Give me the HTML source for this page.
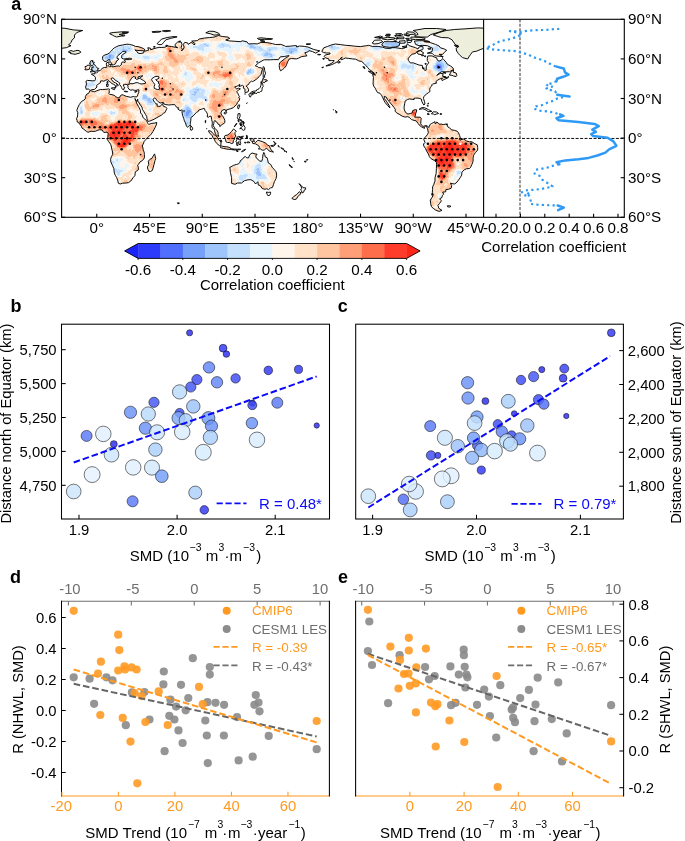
<!DOCTYPE html>
<html lang="en"><head><meta charset="utf-8"><title>Figure</title>
<style>html,body{margin:0;padding:0;background:#fff}svg{display:block}text{white-space:pre}</style></head>
<body>
<svg width="685" height="841" viewBox="0 0 685 841" font-family="'Liberation Sans', Arial, Helvetica, sans-serif">
<rect width="685" height="841" fill="#fff"/>
<defs>
<clipPath id="frame"><rect x="61.6" y="19.3" width="422.0" height="198.0"/></clipPath>
<clipPath id="land"><path d="M86.2,89.3L85.6,87.0L86.5,84.0L85.9,81.3L87.4,80.4L92.1,80.8L94.7,80.8L95.4,79.4L95.4,77.4L94.2,75.8L91.3,74.2L93.2,73.7L94.9,73.9L94.7,72.5L96.5,73.0L97.0,72.5L98.6,71.0L100.3,70.4L101.7,69.2L102.4,68.1L104.4,67.5L106.7,67.3L106.8,66.2L106.4,64.8L106.4,62.9L109.2,61.9L108.8,63.5L109.4,64.2L108.3,65.5L108.5,66.2L109.7,66.8L111.4,66.4L113.2,66.8L116.1,66.2L118.5,65.9L119.6,66.3L120.2,65.6L121.4,64.8L121.4,63.1L122.0,62.2L123.1,61.9L124.9,62.7L125.4,61.1L124.3,60.6L124.3,60.0L126.1,59.6L129.6,59.6L131.9,59.0L130.2,58.2L127.2,58.5L123.7,59.0L121.7,58.1L121.7,56.9L121.6,55.6L123.1,54.3L126.1,52.3L125.5,51.2L122.6,51.5L121.7,52.6L119.0,54.7L117.3,56.3L116.9,57.6L116.9,58.2L118.8,58.9L118.1,60.0L116.5,60.9L116.1,62.2L115.5,63.8L113.5,64.8L112.0,65.0L111.8,63.8L110.2,61.5L109.7,60.2L109.2,59.2L107.9,60.4L106.1,61.4L105.0,61.5L103.4,60.5L102.6,58.9L102.6,56.9L103.2,55.9L105.0,54.9L107.9,54.0L109.7,52.6L111.4,51.0L112.6,49.3L114.3,47.9L116.7,46.6L119.0,45.7L122.6,45.0L126.9,44.2L129.6,44.4L133.1,45.3L135.4,46.4L139.0,46.8L143.7,48.6L145.1,49.9L143.7,50.7L139.0,50.6L135.4,50.1L134.9,49.7L137.2,51.6L137.8,53.0L140.1,53.6L143.7,52.8L143.7,51.4L147.2,50.6L148.6,50.3L147.8,47.7L150.7,48.3L150.7,49.8L153.0,48.9L158.9,47.3L161.2,47.5L164.8,47.2L167.7,46.0L171.8,46.6L175.3,47.3L177.7,47.7L175.3,46.4L175.1,44.4L177.7,42.0L181.2,42.0L182.0,44.4L181.2,47.7L182.9,49.7L181.2,50.6L183.5,49.0L184.1,47.0L183.3,44.4L184.7,42.4L187.6,42.9L188.2,44.4L191.1,42.4L192.9,43.3L194.1,45.0L195.2,43.7L191.7,41.1L197.6,40.6L198.8,39.1L204.6,38.0L209.3,37.6L214.0,37.1L218.7,35.5L222.2,36.5L228.1,37.1L229.8,38.4L225.7,40.0L229.2,40.9L235.1,41.3L240.9,41.7L242.1,40.8L246.8,41.7L248.6,44.0L252.7,43.7L257.4,43.9L260.9,42.4L267.9,42.7L272.6,43.7L275.5,44.5L280.8,44.4L284.3,45.7L285.5,46.4L290.2,46.2L293.7,45.7L296.6,45.7L296.6,47.0L299.6,46.0L304.2,46.4L307.8,47.0L313.6,49.4L317.1,50.3L319.8,50.8L317.1,52.3L315.7,53.1L312.5,51.6L308.9,50.6L307.8,52.0L304.8,52.7L306.9,55.9L301.9,56.5L298.4,58.2L296.4,58.9L291.4,58.5L289.0,59.2L287.8,61.5L286.7,64.2L286.4,65.5L284.3,68.1L282.6,69.5L280.5,70.8L279.6,68.8L279.2,65.5L279.6,62.9L282.0,60.9L285.5,58.2L287.8,56.9L289.0,55.6L284.3,56.5L280.2,56.9L278.5,59.6L273.8,59.6L270.3,59.8L264.4,59.8L263.2,60.2L258.5,62.9L255.3,65.8L257.9,66.8L258.5,67.5L261.5,67.9L262.4,69.2L261.5,72.1L261.2,74.1L259.1,76.7L256.2,79.4L252.7,81.6L251.5,81.1L250.0,82.3L248.9,83.3L248.8,84.2L246.2,86.0L247.4,87.3L248.5,89.3L248.5,91.2L248.0,91.8L245.1,92.7L244.9,91.2L245.1,89.3L243.3,88.2L243.5,86.0L242.5,85.3L239.2,86.6L239.8,84.4L236.8,86.4L234.7,86.9L235.7,88.3L236.8,89.0L238.4,88.2L240.4,88.9L238.6,89.9L236.6,91.9L237.8,93.2L238.6,95.2L239.5,96.8L238.6,97.8L239.8,98.5L239.2,100.5L237.4,102.5L236.8,104.4L235.1,105.9L233.3,107.7L230.8,108.7L229.2,109.1L226.6,109.9L226.1,111.3L225.5,109.9L224.0,109.5L221.8,110.6L220.8,113.0L221.6,115.0L223.4,117.0L224.8,120.3L224.8,122.7L222.8,124.2L222.0,124.5L219.8,126.6L219.8,124.9L218.1,124.2L217.3,122.5L215.2,121.2L214.9,120.4L214.0,121.6L213.8,123.6L213.1,125.8L214.3,127.1L214.6,128.6L215.7,129.1L216.9,130.2L218.0,132.2L218.1,134.4L218.9,136.3L218.0,136.3L215.5,134.4L214.5,130.8L214.2,129.5L213.4,128.5L212.0,127.5L212.0,125.6L212.3,123.6L212.2,121.6L211.6,119.6L211.2,116.3L209.9,116.2L208.5,117.2L207.3,117.0L207.5,114.3L206.5,112.1L205.0,110.4L204.4,108.5L202.9,108.7L201.1,109.3L198.8,110.0L198.4,111.3L196.4,112.4L193.2,115.9L190.9,117.6L190.8,120.5L190.3,122.9L190.3,124.5L189.4,125.8L188.4,126.4L187.6,127.4L186.4,126.0L185.5,122.9L184.4,120.9L183.7,118.3L182.7,115.7L182.1,113.0L182.1,110.4L181.8,109.7L181.4,110.2L180.0,110.6L177.7,108.8L178.8,108.0L177.4,107.5L175.9,106.6L175.3,105.4L174.7,104.6L171.8,104.7L168.9,105.0L165.9,104.6L163.9,104.0L163.3,102.3L161.2,102.9L160.1,103.0L158.3,101.8L156.6,100.1L155.7,98.4L154.2,98.0L153.6,98.5L153.0,99.2L153.7,100.9L154.8,102.5L155.6,103.1L156.3,104.4L156.9,103.6L157.3,105.1L156.9,106.0L158.3,106.3L160.1,106.3L161.8,104.7L162.8,103.5L162.9,105.2L163.6,106.4L165.6,106.9L166.9,108.4L165.7,111.0L164.5,113.0L163.6,113.2L161.6,115.0L158.0,117.0L154.2,119.2L149.8,121.1L147.8,121.3L147.5,120.5L146.9,118.3L146.7,116.3L145.4,114.3L143.9,111.7L142.6,109.7L141.9,107.1L140.4,105.1L138.4,101.8L137.8,101.1L137.7,99.2L137.0,101.1L136.9,101.5L135.7,100.1L135.0,98.6L134.9,98.5L136.0,101.1L136.6,103.1L138.4,106.4L139.9,109.1L140.4,110.4L140.6,113.0L141.9,114.3L143.1,117.6L144.8,119.0L146.6,120.9L147.4,122.3L147.2,122.9L148.9,124.4L151.9,123.3L154.2,123.2L156.8,122.5L156.3,124.9L155.1,127.5L153.0,131.5L150.7,134.8L148.3,136.8L146.0,139.4L144.2,141.4L143.2,144.0L142.2,146.0L143.0,148.0L143.1,150.0L144.1,152.0L144.4,154.6L144.4,157.9L142.5,160.5L140.0,161.9L138.4,164.5L137.6,165.2L138.3,167.1L138.4,169.8L135.4,171.8L135.2,173.1L134.9,175.7L133.1,177.7L130.8,181.0L128.4,182.7L126.1,183.0L122.6,183.2L120.2,184.0L118.3,183.2L117.9,181.0L116.7,177.7L115.5,175.7L114.3,173.1L113.8,168.5L112.6,165.8L110.8,161.9L110.6,159.2L111.4,156.6L112.6,154.6L112.6,152.0L112.0,150.0L111.2,146.0L110.6,144.2L108.5,141.4L107.3,139.4L107.8,137.4L108.0,134.8L108.1,133.1L107.1,132.2L105.0,132.3L103.8,132.4L102.0,129.9L99.7,129.8L97.9,130.2L95.6,131.2L93.2,131.5L91.1,131.2L88.0,132.3L86.2,131.2L83.9,129.3L82.1,128.2L81.3,126.2L79.5,123.8L78.9,122.9L77.2,121.9L77.1,120.3L76.4,118.7L77.4,117.0L77.7,114.3L77.7,112.4L76.8,110.4L78.0,107.1L79.4,104.4L81.5,101.5L83.9,100.1L85.3,98.8L85.4,96.5L86.8,94.1L88.8,93.2L89.9,90.8L90.6,90.7L93.2,91.5L94.4,91.8L96.8,90.8L100.3,89.5L102.6,89.5L106.1,89.3L108.5,88.9L109.7,89.3L109.1,90.6L109.4,92.6L108.5,93.2L109.7,94.3L112.0,94.7L114.7,95.5L115.3,96.5L117.9,97.8L119.6,97.8L120.2,95.9L122.0,94.7L123.7,95.2L126.1,96.3L130.8,97.3L133.1,96.5L134.6,96.8L136.9,96.8L137.4,95.9L137.8,94.5L138.7,92.6L138.7,91.2L139.0,89.9L137.8,89.8L136.0,90.4L134.3,90.3L132.5,89.8L130.8,90.2L129.0,89.3L127.8,87.3L128.2,86.0L127.5,85.3L128.4,84.6L129.6,84.0L127.8,84.2L127.2,84.5L124.9,84.2L124.3,85.0L123.5,84.6L123.4,86.0L124.1,86.6L124.9,87.9L124.0,88.2L123.7,89.8L122.8,89.7L122.0,88.6L121.6,87.5L120.8,86.0L119.6,84.6L119.6,83.1L118.5,82.0L116.1,80.7L114.3,79.4L113.8,78.3L112.8,77.9L111.2,78.3L111.2,79.6L112.7,80.7L113.4,82.0L115.5,82.8L118.5,85.0L118.2,85.6L116.7,84.6L116.2,85.7L116.8,86.6L116.1,87.4L115.2,87.9L115.5,87.0L115.2,85.3L113.8,84.4L112.0,83.6L110.2,82.1L108.8,80.7L107.3,79.6L105.6,80.3L103.8,81.2L102.0,80.8L100.5,81.1L100.5,82.7L99.1,83.6L97.4,84.6L96.4,86.0L97.0,86.9L95.9,88.2L94.4,89.5L91.5,89.7L90.4,90.4L89.4,89.8L88.3,89.0ZM130.8,83.7L133.1,83.7L136.0,82.7L137.8,82.7L139.6,83.6L141.9,84.0L145.4,83.3L145.5,82.0L143.7,80.7L141.9,79.5L140.7,79.1L140.1,78.3L141.3,76.7L142.8,75.8L140.7,76.1L138.4,76.7L137.8,77.9L139.6,78.3L138.1,78.8L136.6,79.5L136.0,78.7L134.9,78.2L136.0,77.4L134.3,76.7L132.9,76.7L131.6,78.3L130.4,80.0L129.6,81.3L129.4,82.7L129.8,83.3ZM151.9,78.7L154.8,76.7L157.1,76.3L158.9,76.7L158.9,78.3L156.8,79.4L155.7,79.6L157.1,81.1L158.7,81.7L158.3,83.3L159.5,84.2L158.9,86.2L159.8,89.0L157.7,89.7L155.7,88.9L154.2,88.3L154.2,86.6L154.8,84.6L153.6,82.7L152.4,81.3L151.6,79.6ZM321.8,51.5L323.6,47.9L327.7,46.4L331.2,45.0L335.3,44.0L340.6,44.6L345.3,45.3L351.1,45.7L354.7,46.2L360.5,46.6L366.4,45.7L368.7,45.3L372.2,46.4L378.1,46.4L382.8,47.2L385.1,48.1L389.8,48.5L392.2,47.7L395.7,47.7L401.5,48.6L405.1,47.9L406.2,46.4L407.4,43.7L409.2,45.7L412.1,46.6L415.6,47.7L418.0,49.0L419.1,47.0L422.6,46.1L423.2,48.3L422.6,49.7L419.1,50.6L416.8,51.6L415.6,53.4L412.1,54.3L409.8,56.3L408.0,58.9L408.6,60.6L410.3,62.9L413.3,62.9L416.8,64.2L419.1,65.1L422.3,65.4L422.6,68.1L423.8,69.5L425.0,70.4L426.2,70.1L426.2,66.8L427.3,64.2L428.9,62.9L427.3,60.6L427.3,58.2L427.9,55.9L432.0,55.9L435.0,57.3L436.7,57.8L437.3,60.2L439.1,61.1L441.4,60.2L442.6,58.5L443.7,59.6L446.1,62.2L447.3,64.2L450.8,66.2L453.1,68.1L453.5,69.5L452.0,70.3L449.6,71.7L446.1,71.8L441.4,71.8L439.1,73.2L436.7,75.4L440.2,73.4L443.4,73.7L442.6,75.0L443.2,77.0L444.9,77.6L447.3,77.6L448.4,76.3L448.4,77.6L444.9,79.2L442.0,80.5L441.4,79.6L442.6,78.0L440.2,78.7L437.9,80.0L436.1,81.3L435.9,82.7L436.7,82.9L435.0,83.5L432.6,84.0L432.0,84.6L431.8,86.0L430.3,87.3L429.7,89.3L430.0,91.5L428.5,92.6L426.2,94.3L423.8,96.5L423.5,98.5L424.6,101.8L425.0,104.0L423.8,105.0L422.6,103.1L421.7,101.1L421.5,99.2L419.9,98.5L418.0,98.1L415.6,98.1L413.9,98.4L414.1,99.6L412.1,99.3L409.2,98.9L407.4,99.6L405.1,101.1L404.7,103.8L404.2,106.4L404.1,108.7L404.8,111.0L406.2,113.0L408.0,114.1L410.3,113.5L412.1,113.0L412.7,110.6L415.0,109.7L416.8,109.9L416.2,112.4L415.6,113.7L415.3,115.7L414.7,117.1L418.0,117.2L420.3,117.2L421.2,118.3L420.9,120.9L420.7,123.6L421.7,125.4L423.2,126.4L425.2,125.7L427.3,125.8L428.2,126.9L428.7,127.5L430.3,124.2L431.4,123.6L433.8,122.3L435.0,121.7L435.0,123.6L436.7,122.9L436.7,122.0L438.5,123.3L439.1,124.2L441.4,124.1L443.2,124.6L446.1,124.0L447.3,125.2L447.8,126.9L449.6,127.8L451.4,129.8L454.3,130.3L457.2,131.2L458.4,132.6L459.6,135.5L460.2,137.4L459.6,138.8L461.9,139.4L463.7,139.0L466.6,141.0L469.5,141.8L471.9,141.8L474.2,143.4L477.2,144.8L477.7,147.3L477.7,150.0L475.4,152.6L473.6,155.3L473.1,157.9L473.1,161.2L471.9,164.5L470.7,167.1L469.5,168.5L466.6,168.7L464.3,169.8L461.9,172.2L461.7,175.1L460.2,177.7L457.8,181.0L456.1,183.0L454.3,184.0L452.0,183.6L450.4,183.2L451.7,185.6L451.1,188.3L448.4,189.3L445.9,189.6L445.7,191.8L442.6,192.2L443.7,194.2L442.3,195.5L442.0,197.5L439.6,198.8L441.4,200.8L439.6,203.4L437.9,205.4L438.5,207.1L438.5,208.1L442.0,210.4L439.1,211.4L435.5,210.0L433.2,208.3L431.4,206.7L430.6,203.4L430.3,200.1L432.0,197.5L433.2,194.9L432.3,192.2L432.6,189.6L432.6,186.9L433.8,184.3L435.0,181.0L435.0,177.7L436.1,173.7L436.4,168.5L436.5,164.5L436.4,162.3L434.4,160.5L430.9,158.6L429.4,156.6L428.3,153.9L426.7,151.3L425.6,148.7L423.8,146.0L423.5,144.0L425.0,142.5L424.4,141.0L423.8,139.4L425.0,137.4L426.2,136.1L427.3,134.8L428.3,132.8L427.9,130.2L427.3,128.2L427.0,127.1L425.6,126.2L424.4,127.1L424.4,128.5L423.0,127.5L421.5,127.1L420.7,126.2L419.1,124.9L418.2,123.6L416.2,120.9L413.9,120.3L411.5,119.6L409.2,117.2L407.4,116.7L405.1,117.1L402.1,116.1L399.2,114.3L396.9,113.0L395.1,111.3L395.3,109.3L393.9,107.3L392.2,105.1L390.4,103.1L389.2,101.4L387.5,99.8L386.3,97.2L384.3,96.3L384.3,98.5L386.3,101.1L388.1,103.8L389.5,106.2L389.9,107.9L387.5,105.4L385.1,102.5L384.0,100.5L382.8,97.8L381.5,95.2L379.9,93.2L377.5,92.6L376.0,89.9L375.2,88.2L373.6,86.0L373.1,84.0L373.2,81.3L373.4,77.4L372.6,74.3L374.6,74.1L375.2,75.4L374.6,73.4L372.2,71.4L369.3,69.5L367.6,67.5L365.8,65.5L364.0,63.5L361.7,61.5L358.8,60.9L355.8,59.2L352.3,58.9L348.8,58.4L345.3,58.0L343.5,58.9L341.2,59.8L340.6,58.2L342.3,57.3L339.4,59.6L337.7,61.5L334.7,63.3L331.2,64.8L327.7,65.8L325.9,65.9L328.9,64.6L331.2,63.5L333.6,61.8L334.1,60.6L331.2,60.6L328.9,60.6L328.9,58.9L325.4,57.8L324.2,56.5L325.4,54.9L330.0,54.0L330.0,53.0L326.5,53.0L323.6,52.6ZM229.8,167.1L230.4,172.4L231.6,177.7L231.6,183.4L235.1,184.3L237.4,183.0L241.5,183.0L244.5,180.7L248.0,179.8L250.9,179.7L253.8,181.4L255.6,184.0L257.9,181.7L258.3,185.0L260.3,185.6L262.1,188.5L265.0,189.3L266.7,188.7L268.5,189.6L270.3,188.0L272.6,187.3L273.5,184.3L274.4,181.7L276.1,178.4L276.7,175.1L276.1,171.8L273.8,169.1L272.0,167.1L270.8,164.5L268.3,163.0L267.7,159.9L267.0,157.6L265.3,157.0L264.7,154.3L263.8,152.4L262.9,155.0L262.6,158.6L261.8,161.2L259.7,161.2L257.9,159.2L256.2,157.9L255.8,155.9L257.1,154.2L255.0,153.9L252.1,153.0L250.3,154.2L249.2,155.9L248.6,157.9L246.8,157.9L245.6,156.6L243.9,157.2L242.1,159.6L240.4,160.5L240.0,162.1L238.6,163.8L236.3,164.5L233.3,165.4L231.0,166.9ZM266.4,192.0L268.5,192.4L270.6,192.1L270.5,193.8L269.7,195.3L267.9,195.7L267.1,194.2ZM299.2,191.7L301.0,192.9L299.6,195.1L297.6,196.6L296.9,198.6L294.9,199.6L293.1,199.1L291.9,198.4L294.1,196.2L296.6,194.6L298.2,192.9ZM250.3,139.2L252.1,138.6L253.8,139.2L254.1,141.4L255.6,142.5L257.9,140.2L260.3,141.0L262.1,141.5L265.6,143.1L267.7,145.1L269.7,146.0L270.0,148.0L272.0,151.0L273.5,152.0L271.4,151.7L269.1,151.0L267.9,149.3L266.2,148.3L264.7,149.7L263.8,150.2L262.1,150.1L260.3,148.9L258.5,149.1L259.5,147.3L258.5,145.6L255.6,143.9L252.7,143.4L252.4,142.1L253.6,141.1L251.5,141.4L250.3,139.8ZM224.5,136.1L225.1,135.5L227.2,135.2L229.2,133.9L231.6,131.5L233.6,128.9L234.7,129.9L236.3,131.2L235.1,132.4L234.9,134.1L236.0,136.5L234.5,137.4L234.5,139.2L233.3,140.7L233.1,143.1L231.2,143.5L229.8,142.5L227.7,142.5L225.9,141.8L225.7,139.8L224.8,138.5ZM208.5,130.7L211.1,131.2L212.5,133.1L214.3,134.8L215.7,135.7L217.5,137.3L218.3,139.3L219.3,140.5L221.0,142.1L220.8,145.8L219.3,145.6L216.7,143.4L215.2,141.4L214.3,139.2L212.8,137.4L212.2,135.7L210.5,133.9L208.7,131.8ZM220.1,147.1L221.6,146.0L224.0,146.7L226.6,146.7L228.9,147.3L231.0,148.4L230.8,149.5L226.9,149.1L223.4,148.4L221.4,147.9ZM260.9,83.3L261.2,81.3L262.6,80.9L262.9,78.3L264.4,79.6L267.0,80.0L267.3,80.9L265.0,81.6L264.6,82.7L262.6,82.0L261.8,82.0L261.2,83.3ZM154.6,153.9L155.7,158.6L155.0,160.5L154.0,164.5L152.4,170.4L150.7,171.4L148.9,171.4L147.8,169.1L147.5,166.9L148.7,164.5L148.3,161.2L150.1,159.2L151.9,158.3L153.3,155.9ZM90.1,72.0L92.7,71.7L95.6,71.2L98.4,70.5L97.4,70.1L98.8,68.5L97.0,68.1L96.9,67.3L95.4,66.0L94.9,64.8L94.2,64.2L93.2,64.2L94.4,62.2L92.7,61.9L92.1,62.1L93.0,60.7L90.9,60.7L90.0,62.2L90.3,63.5L89.5,63.4L90.3,64.8L91.1,65.2L90.9,65.8L92.7,65.6L93.2,66.8L93.2,67.6L91.5,67.7L91.7,68.4L92.1,69.1L90.7,69.7L92.7,70.1L93.2,70.5L91.5,70.8ZM85.0,69.7L86.8,69.9L89.4,69.2L89.7,67.5L90.3,66.2L89.5,65.2L87.4,65.2L86.8,66.2L85.0,66.6L85.3,67.7L85.9,68.5L84.7,69.5ZM446.7,50.3L444.3,52.3L442.6,54.5L439.1,54.3L442.6,56.5L436.7,56.0L434.4,55.6L432.0,53.2L427.3,53.2L432.0,51.6L432.6,48.3L427.3,45.7L422.6,45.4L419.1,45.7L415.6,44.4L414.4,41.1L419.1,40.7L423.8,40.7L428.5,42.0L430.9,42.8L435.5,44.4L439.1,46.0L440.2,47.7L444.3,49.0ZM381.6,45.0L384.0,41.7L389.8,41.7L395.7,41.5L399.8,43.1L399.2,45.7L395.7,47.0L389.8,47.4L384.0,46.6ZM372.2,43.1L374.6,40.2L380.4,40.0L382.8,41.7L378.1,43.7L374.0,44.0ZM399.2,41.1L405.1,40.7L405.1,43.1L400.4,43.3ZM406.8,40.4L412.1,40.4L410.9,42.4L407.4,42.7ZM402.1,46.6L406.2,46.0L406.8,47.3L403.9,47.4ZM423.8,40.9L427.3,40.8L429.7,41.7L426.7,42.1L424.1,41.7ZM393.9,40.9L396.3,40.8L395.9,42.0L394.5,41.7ZM427.9,48.3L430.3,48.1L430.9,49.1L428.5,49.3ZM416.8,51.9L420.3,50.6L423.8,53.0L421.5,54.7L418.0,54.0ZM449.3,75.1L451.4,71.4L453.7,70.0L453.1,72.1L456.1,73.0L456.9,75.4L456.1,76.5L453.7,76.1L452.0,75.3ZM368.4,71.0L372.2,72.1L374.0,74.1L372.2,73.7L369.3,72.1Z" clip-rule="evenodd"/></clipPath>
<filter id="b1" x="-50%" y="-50%" width="200%" height="200%"><feGaussianBlur stdDeviation="0.9"/></filter>
<filter id="b2" x="-50%" y="-50%" width="200%" height="200%"><feGaussianBlur stdDeviation="1.7"/></filter>
<filter id="b3" x="-50%" y="-50%" width="200%" height="200%"><feGaussianBlur stdDeviation="0.9"/></filter>
<filter id="cmap" color-interpolation-filters="sRGB" filterUnits="userSpaceOnUse" x="61.6" y="19.3" width="422.0" height="198.0"><feGaussianBlur in="SourceGraphic" stdDeviation="0.5" result="bl"/><feTurbulence type="fractalNoise" baseFrequency="0.11" numOctaves="3" seed="7" result="nz"/><feColorMatrix in="nz" type="matrix" values="1 0 0 0 0 1 0 0 0 0 1 0 0 0 0 0 0 0 0 1" result="ng"/><feComposite in="bl" in2="ng" operator="arithmetic" k1="0" k2="1" k3="0.34" k4="-0.17" result="sm"/><feComponentTransfer in="sm"><feFuncR type="discrete" tableValues="0.110 0.173 0.310 0.467 0.620 0.773 0.902 1.000 1.000 1.000 1.000 1.000 1.000 1.000"/><feFuncG type="discrete" tableValues="0.141 0.235 0.435 0.627 0.773 0.878 0.957 0.961 0.886 0.773 0.624 0.431 0.239 0.149"/><feFuncB type="discrete" tableValues="0.980 0.980 0.988 0.984 0.988 0.992 0.996 0.918 0.784 0.627 0.471 0.294 0.165 0.094"/></feComponentTransfer></filter>
</defs>
<g clip-path="url(#frame)">
<g clip-path="url(#land)"><g filter="url(#cmap)">
<rect x="56.6" y="14.3" width="432.0" height="208.0" fill="#949494"/>
<g filter="url(#b2)"><ellipse cx="112.6" cy="72.8" rx="12.3" ry="4.9" fill="#9b9b9b"/><ellipse cx="100.3" cy="76.3" rx="4.9" ry="3.9" fill="#898989"/><ellipse cx="90.7" cy="84.2" rx="5.6" ry="3.9" fill="#767676"/><ellipse cx="88.0" cy="85.1" rx="2.6" ry="2.1" fill="#646464"/><ellipse cx="133.6" cy="69.3" rx="14.9" ry="5.3" fill="#adadad"/><ellipse cx="158.1" cy="67.6" rx="10.5" ry="5.3" fill="#adadad"/><ellipse cx="173.9" cy="60.6" rx="7.9" ry="7.9" fill="#adadad"/><ellipse cx="158.1" cy="56.2" rx="7.0" ry="3.2" fill="#898989"/><ellipse cx="142.3" cy="57.0" rx="9.6" ry="3.5" fill="#767676"/><ellipse cx="137.1" cy="54.9" rx="4.9" ry="3.2" fill="#767676"/><ellipse cx="117.8" cy="52.1" rx="14.9" ry="5.3" fill="#646464" transform="rotate(-25 117.8 52.1)"/><ellipse cx="127.4" cy="50.0" rx="6.1" ry="3.2" fill="#646464"/><ellipse cx="135.3" cy="85.1" rx="7.0" ry="2.1" fill="#898989"/><ellipse cx="144.1" cy="81.2" rx="3.2" ry="1.8" fill="#9b9b9b"/><ellipse cx="165.1" cy="85.1" rx="7.9" ry="6.7" fill="#adadad"/><ellipse cx="152.9" cy="92.1" rx="7.0" ry="5.3" fill="#9b9b9b"/><ellipse cx="142.3" cy="99.4" rx="5.6" ry="3.9" fill="#646464"/><ellipse cx="151.1" cy="102.6" rx="4.4" ry="3.2" fill="#646464"/><ellipse cx="112.6" cy="99.4" rx="15.8" ry="4.4" fill="#adadad"/><ellipse cx="86.3" cy="102.6" rx="7.0" ry="3.5" fill="#9b9b9b"/><ellipse cx="81.9" cy="102.6" rx="2.1" ry="3.9" fill="#646464"/><ellipse cx="116.1" cy="79.5" rx="3.2" ry="2.1" fill="#646464"/><ellipse cx="92.4" cy="66.7" rx="3.5" ry="5.3" fill="#646464"/></g>
<g filter="url(#b1)"><ellipse cx="110.8" cy="56.2" rx="3.9" ry="2.5" fill="#525252"/><ellipse cx="124.8" cy="50.9" rx="3.5" ry="1.8" fill="#525252"/><ellipse cx="104.7" cy="58.8" rx="1.8" ry="1.4" fill="#525252"/><ellipse cx="91.5" cy="63.2" rx="1.6" ry="1.6" fill="#525252"/><ellipse cx="133.6" cy="70.7" rx="8.4" ry="2.8" fill="#bfbfbf"/><ellipse cx="129.2" cy="71.9" rx="3.5" ry="1.9" fill="#e6e6e6"/><ellipse cx="138.8" cy="67.6" rx="3.2" ry="1.8" fill="#e6e6e6"/><ellipse cx="170.4" cy="49.7" rx="3.2" ry="2.5" fill="#e6e6e6"/><ellipse cx="172.1" cy="52.7" rx="4.2" ry="3.0" fill="#bfbfbf"/><ellipse cx="163.4" cy="84.2" rx="5.3" ry="4.4" fill="#bfbfbf"/><ellipse cx="161.6" cy="89.5" rx="2.5" ry="1.8" fill="#e6e6e6"/><ellipse cx="169.0" cy="93.5" rx="2.8" ry="1.9" fill="#e6e6e6"/><ellipse cx="165.1" cy="94.7" rx="1.8" ry="1.4" fill="#e6e6e6"/><ellipse cx="145.8" cy="89.5" rx="2.1" ry="1.6" fill="#e6e6e6"/><ellipse cx="162.5" cy="80.7" rx="1.8" ry="1.8" fill="#d1d1d1"/><ellipse cx="145.0" cy="96.5" rx="2.1" ry="1.8" fill="#404040"/><ellipse cx="147.6" cy="92.1" rx="1.8" ry="1.4" fill="#525252"/><ellipse cx="119.6" cy="100.0" rx="3.2" ry="1.9" fill="#bfbfbf"/><ellipse cx="118.7" cy="100.5" rx="1.8" ry="1.2" fill="#e6e6e6"/></g>
<g filter="url(#b2)"><ellipse cx="222.6" cy="46.5" rx="35.0" ry="5.3" fill="#767676"/><ellipse cx="268.1" cy="52.7" rx="14.0" ry="6.1" fill="#767676"/><ellipse cx="282.1" cy="52.7" rx="8.8" ry="4.4" fill="#767676"/><ellipse cx="177.0" cy="49.2" rx="6.1" ry="5.3" fill="#adadad"/><ellipse cx="205.0" cy="60.9" rx="19.3" ry="4.2" fill="#9b9b9b"/><ellipse cx="236.6" cy="64.9" rx="10.5" ry="2.6" fill="#9b9b9b"/><ellipse cx="187.5" cy="76.3" rx="10.5" ry="5.3" fill="#767676"/><ellipse cx="180.5" cy="71.1" rx="4.4" ry="2.1" fill="#9b9b9b"/><ellipse cx="192.8" cy="67.6" rx="7.0" ry="2.1" fill="#9b9b9b"/><ellipse cx="220.8" cy="74.6" rx="11.4" ry="4.6" fill="#bfbfbf"/><ellipse cx="198.0" cy="92.1" rx="10.5" ry="3.9" fill="#646464"/><ellipse cx="213.8" cy="85.1" rx="7.0" ry="3.5" fill="#767676"/><ellipse cx="187.5" cy="88.6" rx="5.3" ry="3.2" fill="#767676"/><ellipse cx="228.7" cy="93.8" rx="6.7" ry="7.9" fill="#adadad"/><ellipse cx="240.1" cy="79.8" rx="5.3" ry="3.2" fill="#9b9b9b"/><ellipse cx="250.6" cy="71.9" rx="4.9" ry="3.9" fill="#646464"/><ellipse cx="252.3" cy="58.8" rx="8.8" ry="2.3" fill="#9b9b9b"/><ellipse cx="284.8" cy="63.2" rx="4.4" ry="3.9" fill="#adadad"/><ellipse cx="180.5" cy="85.1" rx="4.4" ry="2.6" fill="#9b9b9b"/><ellipse cx="175.3" cy="93.8" rx="7.0" ry="3.9" fill="#adadad"/><ellipse cx="261.1" cy="64.1" rx="5.3" ry="2.6" fill="#767676"/></g>
<g filter="url(#b1)"><ellipse cx="205.0" cy="45.1" rx="7.0" ry="1.9" fill="#646464"/><ellipse cx="227.8" cy="46.5" rx="8.8" ry="1.9" fill="#646464"/><ellipse cx="254.1" cy="47.4" rx="8.8" ry="2.3" fill="#646464"/><ellipse cx="275.1" cy="49.2" rx="8.8" ry="2.8" fill="#646464"/><ellipse cx="268.1" cy="54.9" rx="7.9" ry="2.5" fill="#646464"/><ellipse cx="254.1" cy="47.4" rx="4.4" ry="1.2" fill="#525252"/><ellipse cx="203.3" cy="45.1" rx="2.1" ry="1.2" fill="#525252"/><ellipse cx="276.9" cy="48.6" rx="3.2" ry="1.2" fill="#525252"/><ellipse cx="196.3" cy="60.6" rx="6.1" ry="2.1" fill="#adadad"/><ellipse cx="215.6" cy="61.4" rx="5.3" ry="1.8" fill="#adadad"/><ellipse cx="222.6" cy="75.4" rx="5.3" ry="1.8" fill="#d1d1d1"/><ellipse cx="208.5" cy="72.8" rx="2.1" ry="1.6" fill="#d1d1d1"/><ellipse cx="229.6" cy="72.8" rx="1.8" ry="1.4" fill="#d1d1d1"/><ellipse cx="205.0" cy="97.3" rx="4.6" ry="2.5" fill="#525252"/><ellipse cx="194.5" cy="93.0" rx="3.2" ry="1.6" fill="#525252"/><ellipse cx="207.7" cy="101.2" rx="2.1" ry="1.6" fill="#404040"/><ellipse cx="220.8" cy="100.8" rx="3.5" ry="2.5" fill="#bfbfbf"/><ellipse cx="226.9" cy="90.3" rx="2.1" ry="1.8" fill="#bfbfbf"/><ellipse cx="170.9" cy="50.0" rx="2.1" ry="1.8" fill="#d1d1d1"/><ellipse cx="170.0" cy="94.2" rx="1.8" ry="1.4" fill="#d1d1d1"/><ellipse cx="180.9" cy="94.2" rx="2.1" ry="1.6" fill="#d1d1d1"/><ellipse cx="249.7" cy="72.8" rx="1.8" ry="1.4" fill="#525252"/><ellipse cx="284.8" cy="63.7" rx="3.9" ry="3.5" fill="#d1d1d1"/></g>
<g filter="url(#b2)"><ellipse cx="294.0" cy="50.0" rx="16.6" ry="3.5" fill="#646464"/><ellipse cx="346.6" cy="53.2" rx="13.1" ry="3.9" fill="#9b9b9b"/><ellipse cx="332.6" cy="52.7" rx="5.3" ry="4.4" fill="#898989"/><ellipse cx="336.1" cy="47.4" rx="9.6" ry="1.6" fill="#646464"/><ellipse cx="385.1" cy="47.6" rx="14.9" ry="2.1" fill="#646464"/><ellipse cx="367.6" cy="62.3" rx="4.6" ry="4.6" fill="#767676"/><ellipse cx="386.9" cy="67.6" rx="8.8" ry="10.5" fill="#adadad"/><ellipse cx="393.9" cy="88.6" rx="6.1" ry="8.8" fill="#adadad"/><ellipse cx="385.1" cy="89.5" rx="3.2" ry="4.4" fill="#898989"/><ellipse cx="395.6" cy="67.6" rx="3.5" ry="3.5" fill="#898989"/></g>
<g filter="url(#b1)"><ellipse cx="306.3" cy="49.2" rx="2.8" ry="1.6" fill="#525252"/><ellipse cx="290.5" cy="52.7" rx="2.8" ry="1.6" fill="#525252"/><ellipse cx="284.4" cy="63.7" rx="3.5" ry="3.2" fill="#d1d1d1"/><ellipse cx="392.1" cy="45.8" rx="5.3" ry="1.4" fill="#525252"/><ellipse cx="350.1" cy="52.7" rx="4.4" ry="1.4" fill="#adadad"/><ellipse cx="383.4" cy="74.6" rx="2.8" ry="2.5" fill="#bfbfbf"/><ellipse cx="393.9" cy="85.1" rx="2.1" ry="2.1" fill="#bfbfbf"/><ellipse cx="392.1" cy="95.6" rx="1.8" ry="2.1" fill="#bfbfbf"/></g>
<g filter="url(#b2)"><ellipse cx="394.0" cy="43.9" rx="20.1" ry="3.9" fill="#646464"/><ellipse cx="416.8" cy="43.4" rx="4.9" ry="3.5" fill="#646464"/><ellipse cx="432.6" cy="48.3" rx="11.4" ry="4.4" fill="#767676"/><ellipse cx="438.7" cy="65.8" rx="10.2" ry="7.0" fill="#646464"/><ellipse cx="430.8" cy="60.6" rx="4.4" ry="6.1" fill="#767676"/><ellipse cx="406.3" cy="67.6" rx="9.6" ry="7.4" fill="#767676"/><ellipse cx="387.0" cy="72.8" rx="8.8" ry="10.5" fill="#adadad"/><ellipse cx="415.0" cy="88.6" rx="10.5" ry="7.0" fill="#898989"/><ellipse cx="402.8" cy="85.1" rx="7.0" ry="7.0" fill="#9b9b9b"/><ellipse cx="425.6" cy="81.6" rx="7.0" ry="4.4" fill="#9b9b9b"/><ellipse cx="402.8" cy="101.2" rx="2.8" ry="2.1" fill="#646464"/><ellipse cx="423.8" cy="92.1" rx="4.4" ry="3.5" fill="#767676"/><ellipse cx="411.5" cy="74.6" rx="4.4" ry="3.2" fill="#767676"/></g>
<g filter="url(#b1)"><ellipse cx="392.3" cy="44.8" rx="9.6" ry="1.6" fill="#525252"/><ellipse cx="438.7" cy="67.2" rx="5.3" ry="3.2" fill="#525252"/><ellipse cx="438.7" cy="67.2" rx="2.5" ry="1.6" fill="#2e2e2e"/><ellipse cx="438.7" cy="67.2" rx="1.2" ry="0.9" fill="#040404"/><ellipse cx="402.8" cy="67.6" rx="2.5" ry="1.8" fill="#646464"/><ellipse cx="385.3" cy="74.6" rx="2.5" ry="2.8" fill="#bfbfbf"/><ellipse cx="392.3" cy="85.1" rx="1.8" ry="1.8" fill="#bfbfbf"/></g>
<g filter="url(#b2)"><ellipse cx="112.6" cy="109.9" rx="29.8" ry="9.6" fill="#9b9b9b"/><ellipse cx="117.8" cy="103.8" rx="12.3" ry="4.4" fill="#adadad"/><ellipse cx="91.5" cy="105.5" rx="7.0" ry="3.5" fill="#adadad"/><ellipse cx="110.8" cy="112.5" rx="7.0" ry="2.5" fill="#767676"/><ellipse cx="133.6" cy="111.6" rx="4.4" ry="2.8" fill="#767676"/><ellipse cx="81.0" cy="109.9" rx="3.2" ry="5.3" fill="#646464"/><ellipse cx="95.0" cy="113.4" rx="5.3" ry="2.1" fill="#767676"/><ellipse cx="137.1" cy="105.5" rx="4.4" ry="4.4" fill="#adadad"/><ellipse cx="89.8" cy="123.9" rx="14.0" ry="4.9" fill="#bfbfbf"/><ellipse cx="123.1" cy="132.7" rx="18.4" ry="11.4" fill="#d1d1d1"/><ellipse cx="142.3" cy="126.5" rx="5.6" ry="5.6" fill="#bfbfbf"/><ellipse cx="151.1" cy="127.4" rx="4.4" ry="3.5" fill="#adadad"/><ellipse cx="138.8" cy="146.7" rx="5.3" ry="6.3" fill="#bfbfbf"/><ellipse cx="126.6" cy="153.7" rx="10.2" ry="4.9" fill="#adadad"/><ellipse cx="112.6" cy="152.8" rx="3.5" ry="3.5" fill="#9b9b9b"/><ellipse cx="119.6" cy="166.0" rx="8.4" ry="9.1" fill="#767676"/><ellipse cx="131.8" cy="170.3" rx="4.4" ry="7.4" fill="#9b9b9b"/><ellipse cx="124.8" cy="181.7" rx="4.4" ry="2.5" fill="#adadad"/><ellipse cx="133.6" cy="161.6" rx="3.5" ry="3.5" fill="#adadad"/><ellipse cx="152.0" cy="163.3" rx="2.5" ry="6.1" fill="#adadad" transform="rotate(15 152.0 163.3)"/><ellipse cx="149.3" cy="102.0" rx="4.6" ry="5.6" fill="#646464"/><ellipse cx="158.1" cy="105.5" rx="3.9" ry="3.5" fill="#adadad"/><ellipse cx="165.1" cy="100.3" rx="5.3" ry="3.5" fill="#adadad"/></g>
<g filter="url(#b1)"><ellipse cx="88.0" cy="123.4" rx="9.6" ry="3.2" fill="#d1d1d1"/><ellipse cx="82.8" cy="121.3" rx="3.5" ry="1.8" fill="#e6e6e6"/><ellipse cx="121.3" cy="128.3" rx="14.0" ry="5.6" fill="#e6e6e6"/><ellipse cx="121.7" cy="140.9" rx="8.4" ry="7.0" fill="#e6e6e6"/><ellipse cx="130.1" cy="123.9" rx="7.0" ry="2.8" fill="#e6e6e6"/><ellipse cx="112.6" cy="132.7" rx="4.4" ry="3.5" fill="#e6e6e6"/><ellipse cx="103.8" cy="127.4" rx="7.0" ry="2.1" fill="#d1d1d1"/><ellipse cx="117.8" cy="100.3" rx="3.2" ry="1.8" fill="#bfbfbf"/><ellipse cx="139.7" cy="132.7" rx="1.6" ry="1.6" fill="#646464"/><ellipse cx="141.5" cy="155.4" rx="1.8" ry="1.6" fill="#d1d1d1"/><ellipse cx="120.4" cy="170.7" rx="3.5" ry="3.2" fill="#646464"/><ellipse cx="112.6" cy="161.6" rx="2.1" ry="2.5" fill="#646464"/><ellipse cx="118.7" cy="174.7" rx="1.8" ry="2.1" fill="#525252"/><ellipse cx="145.8" cy="97.6" rx="1.8" ry="1.8" fill="#525252"/><ellipse cx="150.2" cy="109.9" rx="1.8" ry="1.8" fill="#404040"/><ellipse cx="137.1" cy="138.8" rx="2.1" ry="5.3" fill="#bfbfbf"/><ellipse cx="110.8" cy="112.5" rx="3.2" ry="1.2" fill="#646464"/><ellipse cx="103.8" cy="100.3" rx="4.4" ry="1.8" fill="#bfbfbf"/><ellipse cx="95.0" cy="105.5" rx="3.5" ry="1.8" fill="#bfbfbf"/><ellipse cx="126.6" cy="105.5" rx="5.3" ry="2.1" fill="#bfbfbf"/></g>
<g filter="url(#b2)"><ellipse cx="187.5" cy="114.8" rx="6.1" ry="10.9" fill="#646464"/><ellipse cx="191.0" cy="99.0" rx="10.9" ry="5.3" fill="#767676"/><ellipse cx="199.8" cy="93.8" rx="11.4" ry="4.4" fill="#646464"/><ellipse cx="186.6" cy="111.3" rx="3.5" ry="6.7" fill="#525252"/><ellipse cx="175.3" cy="93.8" rx="7.9" ry="5.3" fill="#bfbfbf"/><ellipse cx="217.3" cy="102.5" rx="9.1" ry="10.9" fill="#adadad"/><ellipse cx="219.1" cy="118.3" rx="5.3" ry="5.6" fill="#adadad"/><ellipse cx="228.7" cy="95.5" rx="7.4" ry="9.1" fill="#adadad"/><ellipse cx="230.4" cy="136.7" rx="4.6" ry="4.6" fill="#adadad"/><ellipse cx="215.2" cy="137.6" rx="2.1" ry="4.9" fill="#bfbfbf" transform="rotate(-35 215.2 137.6)"/><ellipse cx="261.1" cy="144.6" rx="7.4" ry="2.6" fill="#9b9b9b"/><ellipse cx="248.8" cy="160.7" rx="5.6" ry="3.5" fill="#9b9b9b"/><ellipse cx="257.6" cy="167.3" rx="9.1" ry="6.3" fill="#646464"/><ellipse cx="224.3" cy="151.6" rx="7.0" ry="1.4" fill="#9b9b9b"/></g>
<g filter="url(#b1)"><ellipse cx="219.9" cy="105.1" rx="2.1" ry="2.1" fill="#d1d1d1"/><ellipse cx="219.9" cy="116.5" rx="1.8" ry="1.8" fill="#d1d1d1"/><ellipse cx="224.3" cy="92.0" rx="2.6" ry="2.1" fill="#bfbfbf"/><ellipse cx="171.8" cy="94.6" rx="1.6" ry="1.4" fill="#d1d1d1"/><ellipse cx="180.9" cy="94.1" rx="1.8" ry="1.4" fill="#d1d1d1"/><ellipse cx="230.4" cy="137.6" rx="2.1" ry="2.5" fill="#bfbfbf"/></g>
<g filter="url(#b2)"><ellipse cx="253.3" cy="171.2" rx="21.9" ry="14.4" fill="#767676"/><ellipse cx="257.7" cy="169.4" rx="3.9" ry="5.6" fill="#646464"/><ellipse cx="234.9" cy="173.8" rx="4.4" ry="6.3" fill="#9b9b9b"/><ellipse cx="249.8" cy="161.5" rx="7.4" ry="2.6" fill="#9b9b9b"/><ellipse cx="270.8" cy="173.8" rx="3.5" ry="9.1" fill="#9b9b9b"/><ellipse cx="244.5" cy="177.3" rx="4.4" ry="3.5" fill="#767676"/><ellipse cx="262.9" cy="144.9" rx="7.0" ry="2.6" fill="#adadad"/><ellipse cx="297.1" cy="196.6" rx="5.3" ry="2.1" fill="#9b9b9b" transform="rotate(-45 297.1 196.6)"/><ellipse cx="268.2" cy="193.4" rx="2.1" ry="1.8" fill="#898989"/></g>
<g filter="url(#b1)"><ellipse cx="262.0" cy="181.9" rx="2.5" ry="2.1" fill="#adadad"/><ellipse cx="230.5" cy="137.0" rx="3.9" ry="4.6" fill="#bfbfbf"/></g>
<g filter="url(#b2)"><ellipse cx="395.5" cy="95.5" rx="13.1" ry="9.6" fill="#adadad"/><ellipse cx="441.1" cy="128.8" rx="14.9" ry="5.3" fill="#adadad"/><ellipse cx="446.3" cy="127.0" rx="3.9" ry="2.5" fill="#898989"/><ellipse cx="413.9" cy="113.0" rx="2.5" ry="2.5" fill="#bfbfbf"/><ellipse cx="418.3" cy="120.0" rx="3.5" ry="5.3" fill="#adadad"/></g>
<g filter="url(#b1)"><ellipse cx="392.0" cy="90.3" rx="4.4" ry="3.5" fill="#bfbfbf"/><ellipse cx="402.5" cy="99.0" rx="2.1" ry="2.1" fill="#646464"/><ellipse cx="432.3" cy="128.8" rx="3.5" ry="2.6" fill="#bfbfbf"/><ellipse cx="414.4" cy="113.4" rx="2.8" ry="2.8" fill="#e6e6e6"/><ellipse cx="418.3" cy="119.2" rx="2.1" ry="2.8" fill="#bfbfbf"/></g>
<g filter="url(#b2)"><ellipse cx="449.8" cy="149.3" rx="24.5" ry="10.5" fill="#d1d1d1"/><ellipse cx="444.6" cy="164.2" rx="10.5" ry="8.4" fill="#d1d1d1"/><ellipse cx="467.3" cy="158.9" rx="5.6" ry="9.1" fill="#bfbfbf"/><ellipse cx="442.8" cy="176.4" rx="5.3" ry="7.9" fill="#bfbfbf"/><ellipse cx="442.8" cy="186.9" rx="7.4" ry="9.1" fill="#adadad"/><ellipse cx="437.6" cy="200.1" rx="4.4" ry="7.4" fill="#9b9b9b"/><ellipse cx="441.1" cy="196.6" rx="2.5" ry="2.5" fill="#767676"/><ellipse cx="428.8" cy="149.3" rx="2.5" ry="5.3" fill="#bfbfbf"/></g>
<g filter="url(#b1)"><ellipse cx="448.9" cy="148.9" rx="21.0" ry="7.9" fill="#e6e6e6"/><ellipse cx="443.7" cy="162.4" rx="8.4" ry="6.7" fill="#e6e6e6"/><ellipse cx="441.9" cy="174.7" rx="3.2" ry="6.1" fill="#d1d1d1"/><ellipse cx="458.6" cy="172.0" rx="2.8" ry="2.5" fill="#646464"/><ellipse cx="454.2" cy="181.2" rx="2.1" ry="1.8" fill="#767676"/><ellipse cx="437.2" cy="172.9" rx="1.1" ry="3.5" fill="#646464"/><ellipse cx="425.6" cy="144.9" rx="1.1" ry="1.8" fill="#646464"/><ellipse cx="470.8" cy="151.0" rx="4.4" ry="4.4" fill="#d1d1d1"/></g>
</g></g>
<path d="M11.2,34.9L17.1,32.5L24.1,30.5L32.3,29.5L44.0,28.8L55.7,27.9L65.1,28.3L73.3,29.9L82.7,30.5L76.8,32.5L74.5,35.1L74.5,37.8L72.2,39.8L71.0,42.4L68.6,45.0L71.0,45.7L66.3,47.7L61.6,48.3L58.1,49.7L54.6,51.2L50.5,51.9L48.7,54.3L46.9,56.9L45.8,58.9L44.0,58.6L40.5,57.6L38.2,55.6L36.4,53.6L34.6,51.0L34.1,48.3L37.0,46.4L33.5,45.0L32.3,43.1L30.0,39.8L26.4,37.8L19.4,37.5L15.9,36.5ZM433.2,34.9L439.1,32.5L446.1,30.5L454.3,29.5L466.0,28.8L477.7,27.9L487.1,28.3L495.3,29.9L504.7,30.5L498.8,32.5L496.5,35.1L496.5,37.8L494.2,39.8L493.0,42.4L490.6,45.0L493.0,45.7L488.3,47.7L483.6,48.3L480.1,49.7L476.6,51.2L472.5,51.9L470.7,54.3L468.9,56.9L467.8,58.9L466.0,58.6L462.5,57.6L460.2,55.6L458.4,53.6L456.6,51.0L456.1,48.3L459.0,46.4L455.5,45.0L454.3,43.1L452.0,39.8L448.4,37.8L441.4,37.5L437.9,36.5ZM68.6,51.6L71.0,50.5L73.3,51.4L75.7,50.7L78.0,50.3L79.8,51.0L80.8,52.3L79.2,53.2L75.1,54.3L72.2,53.8L70.4,53.6L71.0,52.7L68.6,52.3ZM109.7,33.2L113.2,32.5L117.9,32.2L121.4,31.8L128.4,32.2L124.9,33.4L119.0,34.5L121.4,34.9L122.6,35.8L116.7,37.0L114.3,36.2L112.6,35.1L110.2,34.1ZM205.8,32.8L209.3,31.2L214.0,31.4L218.7,33.2L219.8,34.7L214.0,35.1L210.5,33.8ZM257.4,38.4L260.9,37.8L266.7,38.4L272.6,38.8L271.4,39.4L264.4,39.4L258.5,39.4ZM260.3,40.7L263.2,40.6L265.0,41.3L262.1,41.5ZM306.0,44.1L308.4,43.6L310.7,44.0L308.9,44.5L306.6,44.5ZM151.9,31.8L156.6,31.3L161.2,31.4L158.9,32.2L153.0,32.4ZM162.4,30.9L167.1,30.4L170.6,30.9L165.9,31.7ZM381.6,38.4L387.5,37.4L394.5,37.8L394.5,39.1L387.5,39.8L382.8,39.1ZM410.9,37.1L419.1,37.1L425.0,38.2L425.0,39.4L415.6,39.6L410.9,39.1ZM396.9,37.1L403.9,37.0L403.9,38.8L398.0,38.7ZM415.6,37.0L427.3,37.1L430.9,34.5L439.1,32.1L446.1,29.5L436.7,28.5L425.0,28.5L413.3,30.5L416.8,32.5L418.0,34.5L414.4,35.8ZM407.4,31.8L413.3,32.2L415.6,34.1L409.8,34.5L406.2,33.2ZM395.7,33.8L401.5,33.6L402.7,35.1L396.9,35.4ZM374.6,37.4L380.4,36.1L382.8,37.1L378.1,38.0ZM405.6,38.4L409.2,38.3L409.2,39.4L406.2,39.2ZM385.1,35.3L389.8,35.1L389.8,36.1L386.3,36.2ZM386.3,34.3L389.8,34.1L390.4,34.9L387.5,34.9ZM403.9,34.1L406.8,34.1L406.8,35.3L404.5,35.3ZM406.2,35.4L409.8,35.5L409.2,36.1L406.5,35.9ZM395.7,38.2L397.4,38.0L397.4,39.1L395.9,39.1ZM378.7,37.8L380.7,37.5L380.7,38.3L379.3,38.4ZM398.6,35.1L401.0,35.1L400.6,35.7L398.8,35.7ZM394.5,35.7L396.3,35.4L396.5,36.2L395.1,36.3ZM454.5,45.4L457.5,45.3L457.8,46.4L455.5,46.6ZM122.6,32.1L128.4,32.1L127.2,33.2L122.6,33.2ZM122.0,34.9L124.9,35.1L124.3,36.1L122.0,35.8Z" fill="#eeeedd" stroke="#000" stroke-width="0.95" stroke-linejoin="round"/>
<path d="M299.2,183.6L301.3,186.0L302.5,186.7L303.1,187.7L305.8,187.9L305.2,189.8L304.2,190.2L303.7,192.2L301.9,192.9L301.7,190.9L300.5,190.0L301.6,188.7L301.3,186.9L300.1,185.0ZM237.2,137.0L238.4,136.4L240.9,136.9L243.3,136.0L242.5,137.6L239.2,137.4L237.7,139.2L239.2,139.4L241.3,139.3L239.8,140.7L240.7,143.4L240.1,145.1L239.0,144.0L238.6,141.8L237.8,142.1L238.0,145.4L236.8,145.4L236.6,142.7L236.0,141.7L236.8,139.4ZM238.0,113.7L240.0,113.7L240.1,116.3L239.2,118.3L239.8,119.6L241.5,119.9L242.1,121.3L240.9,120.9L239.5,119.9L238.1,119.4L237.4,117.6L237.8,116.3ZM239.8,128.9L241.5,126.9L243.9,125.3L245.1,127.5L244.7,129.8L243.6,130.4L242.1,129.5L241.5,128.2ZM242.5,121.6L243.9,122.0L243.5,124.5L242.7,124.2L241.5,123.8L240.9,125.8L240.4,124.9L239.8,122.9L240.9,122.7ZM234.2,127.0L235.3,125.8L236.8,123.8L236.6,123.2L235.1,125.2ZM238.6,104.8L239.8,105.1L239.2,107.1L238.4,109.1L237.6,107.7L237.8,106.0ZM224.2,112.6L226.3,111.7L226.9,112.2L225.7,113.9L224.2,113.7ZM250.2,93.2L251.5,92.0L253.3,91.2L256.2,91.0L257.1,89.3L257.7,89.5L259.1,88.6L260.3,87.3L260.9,85.3L261.2,83.6L262.6,83.5L262.9,85.3L263.2,86.6L262.1,87.9L262.1,89.5L261.7,91.1L260.9,91.9L260.5,91.5L259.5,92.4L257.4,92.4L257.1,92.8L256.2,93.9L255.3,92.8L253.8,92.4L252.1,93.0L250.3,93.4ZM249.2,93.9L250.3,93.5L251.3,94.5L250.9,96.5L250.0,97.2L249.4,95.9L248.8,94.5ZM252.1,93.5L254.2,92.8L254.7,93.5L253.3,94.1L252.4,94.8ZM263.2,66.6L264.4,67.5L264.7,70.8L265.6,73.2L264.4,76.1L265.0,77.1L263.2,77.4L263.2,74.7L263.2,72.1L263.0,69.5L263.0,67.5ZM190.3,125.3L190.9,125.6L192.7,128.2L192.3,129.8L190.9,130.3L190.3,128.9L190.3,126.9ZM111.4,87.9L114.9,87.7L114.6,89.7L111.4,88.5ZM106.5,84.0L108.1,84.0L108.1,86.4L106.7,86.6ZM107.0,81.7L107.9,81.3L107.9,83.3L107.1,83.3ZM124.3,91.1L127.6,91.5L127.5,91.9L124.4,91.6ZM134.6,91.9L135.4,91.5L137.2,91.0L136.4,92.0L135.2,92.4ZM157.1,43.7L159.5,41.1L161.8,39.1L167.1,37.5L174.1,36.5L177.1,36.9L170.6,38.4L165.9,39.8L163.6,42.4L161.8,44.6L158.9,44.6ZM241.5,151.7L243.3,150.2L245.6,149.2L245.1,150.0L242.7,151.6ZM232.7,149.2L235.1,149.1L237.4,149.2L240.7,149.1L240.4,149.7L237.4,149.8L233.9,150.0ZM236.3,150.6L238.0,150.8L238.0,151.6L236.6,151.3ZM246.2,135.7L247.0,135.3L247.6,136.8L247.0,139.0L246.5,138.4L246.6,137.0ZM246.8,142.2L248.6,141.8L250.1,142.6L248.6,142.7L247.0,142.7ZM244.5,142.3L245.9,142.3L245.8,143.1L244.7,143.0ZM270.8,145.5L273.2,145.4L275.2,143.6L275.3,144.7L273.5,146.3L271.4,146.3ZM273.5,141.5L274.9,142.3L276.1,143.9L275.6,144.0L274.4,142.5ZM278.0,145.4L279.4,146.7L279.2,147.2L278.2,146.3ZM280.8,147.7L282.6,148.4L284.1,149.3L283.7,149.6L281.4,148.5ZM284.1,150.4L285.3,151.0L285.0,151.3L284.0,150.9ZM285.8,151.0L287.0,152.1L286.7,152.4L285.7,151.6ZM292.1,157.6L292.8,157.9L292.9,158.8L292.2,158.7ZM292.8,159.2L293.5,159.6L293.2,160.1ZM293.9,161.3L294.4,161.6L294.1,161.9ZM289.0,164.6L290.8,165.7L292.5,167.4L291.9,167.7L290.2,166.5ZM304.6,161.1L306.1,161.3L305.9,162.1L304.7,162.0ZM306.4,159.9L307.8,159.5L307.3,160.3ZM177.4,202.8L179.3,202.9L179.1,203.7L177.7,203.6ZM335.9,111.4L337.1,111.8L337.0,112.6L336.1,113.0ZM335.1,110.5L335.9,110.6L335.5,110.9ZM333.3,109.6L333.9,110.0L333.6,110.0ZM421.5,55.1L423.8,55.1L423.2,55.9L421.7,55.7ZM424.4,55.9L425.8,55.9L425.6,56.7L424.6,56.7ZM422.6,67.9L424.4,68.0L424.1,68.5L422.9,68.4ZM425.0,63.4L426.2,63.5L425.8,64.4L425.0,64.2ZM442.0,56.7L443.2,56.7L442.9,57.2L442.1,57.2ZM443.2,72.2L446.1,72.9L445.5,73.3L443.7,72.8ZM443.4,76.3L446.1,76.9L445.2,77.4L443.7,76.9ZM362.9,66.7L364.4,66.8L364.9,68.8L363.7,68.1ZM337.7,62.2L340.0,61.5L340.2,62.5L338.2,63.1ZM317.7,54.3L320.7,54.5L319.5,54.9L317.7,54.7ZM322.7,58.6L324.4,58.5L324.2,59.2L323.0,59.2ZM419.1,109.3L421.5,107.7L424.4,107.6L428.5,109.6L431.8,111.4L427.9,111.8L427.3,110.8L425.0,109.5L422.6,108.7L420.3,109.3ZM431.4,113.8L433.2,111.8L436.7,112.0L438.6,113.5L436.1,114.1L434.7,114.7L433.8,114.1ZM427.0,113.8L428.7,113.7L429.4,114.3L427.9,114.6ZM440.0,113.7L441.8,113.8L441.6,114.3L440.0,114.3ZM446.3,124.0L447.3,123.8L447.3,124.8L446.3,124.8ZM447.3,205.8L449.6,205.8L451.0,206.3L449.6,207.1L447.5,206.7ZM431.8,193.4L432.6,193.5L432.5,195.3L431.7,195.1ZM459.6,138.4L461.3,138.5L461.9,139.4L460.2,140.2L459.2,139.4ZM427.3,105.4L427.7,104.8L428.2,106.2L427.6,106.4ZM427.9,103.1L428.5,103.0L428.4,103.8L428.0,103.9ZM109.9,64.4L111.4,64.2L111.3,65.2L110.0,65.2ZM153.6,46.6L155.1,46.5L154.8,47.3L153.6,47.2ZM165.9,45.3L167.7,45.4L167.1,46.1L165.9,46.0ZM178.8,41.2L180.6,41.2L180.0,41.7L178.8,41.6ZM321.8,67.5L323.6,67.0L323.2,67.5L322.1,67.9ZM246.5,103.5L247.2,102.7L246.8,103.5ZM244.7,94.0L245.5,93.9L245.2,94.3ZM205.4,120.3L205.8,120.5L205.5,122.8L205.2,122.5ZM206.6,128.5L206.8,128.9L206.6,129.1ZM220.2,140.2L221.3,140.1L221.8,141.9L221.0,141.8ZM231.0,148.9L232.4,148.9L233.6,149.2L233.3,149.8L231.8,149.7ZM237.9,120.3L239.0,120.5L239.0,121.9L238.4,121.7ZM240.2,123.8L241.3,123.7L241.2,125.8L240.5,125.6ZM242.5,121.6L243.6,121.6L244.1,123.4L243.3,123.6Z" fill="#fffdf8" stroke="#000" stroke-width="0.95" stroke-linejoin="round"/>
<path d="M86.2,89.3L85.6,87.0L86.5,84.0L85.9,81.3L87.4,80.4L92.1,80.8L94.7,80.8L95.4,79.4L95.4,77.4L94.2,75.8L91.3,74.2L93.2,73.7L94.9,73.9L94.7,72.5L96.5,73.0L97.0,72.5L98.6,71.0L100.3,70.4L101.7,69.2L102.4,68.1L104.4,67.5L106.7,67.3L106.8,66.2L106.4,64.8L106.4,62.9L109.2,61.9L108.8,63.5L109.4,64.2L108.3,65.5L108.5,66.2L109.7,66.8L111.4,66.4L113.2,66.8L116.1,66.2L118.5,65.9L119.6,66.3L120.2,65.6L121.4,64.8L121.4,63.1L122.0,62.2L123.1,61.9L124.9,62.7L125.4,61.1L124.3,60.6L124.3,60.0L126.1,59.6L129.6,59.6L131.9,59.0L130.2,58.2L127.2,58.5L123.7,59.0L121.7,58.1L121.7,56.9L121.6,55.6L123.1,54.3L126.1,52.3L125.5,51.2L122.6,51.5L121.7,52.6L119.0,54.7L117.3,56.3L116.9,57.6L116.9,58.2L118.8,58.9L118.1,60.0L116.5,60.9L116.1,62.2L115.5,63.8L113.5,64.8L112.0,65.0L111.8,63.8L110.2,61.5L109.7,60.2L109.2,59.2L107.9,60.4L106.1,61.4L105.0,61.5L103.4,60.5L102.6,58.9L102.6,56.9L103.2,55.9L105.0,54.9L107.9,54.0L109.7,52.6L111.4,51.0L112.6,49.3L114.3,47.9L116.7,46.6L119.0,45.7L122.6,45.0L126.9,44.2L129.6,44.4L133.1,45.3L135.4,46.4L139.0,46.8L143.7,48.6L145.1,49.9L143.7,50.7L139.0,50.6L135.4,50.1L134.9,49.7L137.2,51.6L137.8,53.0L140.1,53.6L143.7,52.8L143.7,51.4L147.2,50.6L148.6,50.3L147.8,47.7L150.7,48.3L150.7,49.8L153.0,48.9L158.9,47.3L161.2,47.5L164.8,47.2L167.7,46.0L171.8,46.6L175.3,47.3L177.7,47.7L175.3,46.4L175.1,44.4L177.7,42.0L181.2,42.0L182.0,44.4L181.2,47.7L182.9,49.7L181.2,50.6L183.5,49.0L184.1,47.0L183.3,44.4L184.7,42.4L187.6,42.9L188.2,44.4L191.1,42.4L192.9,43.3L194.1,45.0L195.2,43.7L191.7,41.1L197.6,40.6L198.8,39.1L204.6,38.0L209.3,37.6L214.0,37.1L218.7,35.5L222.2,36.5L228.1,37.1L229.8,38.4L225.7,40.0L229.2,40.9L235.1,41.3L240.9,41.7L242.1,40.8L246.8,41.7L248.6,44.0L252.7,43.7L257.4,43.9L260.9,42.4L267.9,42.7L272.6,43.7L275.5,44.5L280.8,44.4L284.3,45.7L285.5,46.4L290.2,46.2L293.7,45.7L296.6,45.7L296.6,47.0L299.6,46.0L304.2,46.4L307.8,47.0L313.6,49.4L317.1,50.3L319.8,50.8L317.1,52.3L315.7,53.1L312.5,51.6L308.9,50.6L307.8,52.0L304.8,52.7L306.9,55.9L301.9,56.5L298.4,58.2L296.4,58.9L291.4,58.5L289.0,59.2L287.8,61.5L286.7,64.2L286.4,65.5L284.3,68.1L282.6,69.5L280.5,70.8L279.6,68.8L279.2,65.5L279.6,62.9L282.0,60.9L285.5,58.2L287.8,56.9L289.0,55.6L284.3,56.5L280.2,56.9L278.5,59.6L273.8,59.6L270.3,59.8L264.4,59.8L263.2,60.2L258.5,62.9L255.3,65.8L257.9,66.8L258.5,67.5L261.5,67.9L262.4,69.2L261.5,72.1L261.2,74.1L259.1,76.7L256.2,79.4L252.7,81.6L251.5,81.1L250.0,82.3L248.9,83.3L248.8,84.2L246.2,86.0L247.4,87.3L248.5,89.3L248.5,91.2L248.0,91.8L245.1,92.7L244.9,91.2L245.1,89.3L243.3,88.2L243.5,86.0L242.5,85.3L239.2,86.6L239.8,84.4L236.8,86.4L234.7,86.9L235.7,88.3L236.8,89.0L238.4,88.2L240.4,88.9L238.6,89.9L236.6,91.9L237.8,93.2L238.6,95.2L239.5,96.8L238.6,97.8L239.8,98.5L239.2,100.5L237.4,102.5L236.8,104.4L235.1,105.9L233.3,107.7L230.8,108.7L229.2,109.1L226.6,109.9L226.1,111.3L225.5,109.9L224.0,109.5L221.8,110.6L220.8,113.0L221.6,115.0L223.4,117.0L224.8,120.3L224.8,122.7L222.8,124.2L222.0,124.5L219.8,126.6L219.8,124.9L218.1,124.2L217.3,122.5L215.2,121.2L214.9,120.4L214.0,121.6L213.8,123.6L213.1,125.8L214.3,127.1L214.6,128.6L215.7,129.1L216.9,130.2L218.0,132.2L218.1,134.4L218.9,136.3L218.0,136.3L215.5,134.4L214.5,130.8L214.2,129.5L213.4,128.5L212.0,127.5L212.0,125.6L212.3,123.6L212.2,121.6L211.6,119.6L211.2,116.3L209.9,116.2L208.5,117.2L207.3,117.0L207.5,114.3L206.5,112.1L205.0,110.4L204.4,108.5L202.9,108.7L201.1,109.3L198.8,110.0L198.4,111.3L196.4,112.4L193.2,115.9L190.9,117.6L190.8,120.5L190.3,122.9L190.3,124.5L189.4,125.8L188.4,126.4L187.6,127.4L186.4,126.0L185.5,122.9L184.4,120.9L183.7,118.3L182.7,115.7L182.1,113.0L182.1,110.4L181.8,109.7L181.4,110.2L180.0,110.6L177.7,108.8L178.8,108.0L177.4,107.5L175.9,106.6L175.3,105.4L174.7,104.6L171.8,104.7L168.9,105.0L165.9,104.6L163.9,104.0L163.3,102.3L161.2,102.9L160.1,103.0L158.3,101.8L156.6,100.1L155.7,98.4L154.2,98.0L153.6,98.5L153.0,99.2L153.7,100.9L154.8,102.5L155.6,103.1L156.3,104.4L156.9,103.6L157.3,105.1L156.9,106.0L158.3,106.3L160.1,106.3L161.8,104.7L162.8,103.5L162.9,105.2L163.6,106.4L165.6,106.9L166.9,108.4L165.7,111.0L164.5,113.0L163.6,113.2L161.6,115.0L158.0,117.0L154.2,119.2L149.8,121.1L147.8,121.3L147.5,120.5L146.9,118.3L146.7,116.3L145.4,114.3L143.9,111.7L142.6,109.7L141.9,107.1L140.4,105.1L138.4,101.8L137.8,101.1L137.7,99.2L137.0,101.1L136.9,101.5L135.7,100.1L135.0,98.6L134.9,98.5L136.0,101.1L136.6,103.1L138.4,106.4L139.9,109.1L140.4,110.4L140.6,113.0L141.9,114.3L143.1,117.6L144.8,119.0L146.6,120.9L147.4,122.3L147.2,122.9L148.9,124.4L151.9,123.3L154.2,123.2L156.8,122.5L156.3,124.9L155.1,127.5L153.0,131.5L150.7,134.8L148.3,136.8L146.0,139.4L144.2,141.4L143.2,144.0L142.2,146.0L143.0,148.0L143.1,150.0L144.1,152.0L144.4,154.6L144.4,157.9L142.5,160.5L140.0,161.9L138.4,164.5L137.6,165.2L138.3,167.1L138.4,169.8L135.4,171.8L135.2,173.1L134.9,175.7L133.1,177.7L130.8,181.0L128.4,182.7L126.1,183.0L122.6,183.2L120.2,184.0L118.3,183.2L117.9,181.0L116.7,177.7L115.5,175.7L114.3,173.1L113.8,168.5L112.6,165.8L110.8,161.9L110.6,159.2L111.4,156.6L112.6,154.6L112.6,152.0L112.0,150.0L111.2,146.0L110.6,144.2L108.5,141.4L107.3,139.4L107.8,137.4L108.0,134.8L108.1,133.1L107.1,132.2L105.0,132.3L103.8,132.4L102.0,129.9L99.7,129.8L97.9,130.2L95.6,131.2L93.2,131.5L91.1,131.2L88.0,132.3L86.2,131.2L83.9,129.3L82.1,128.2L81.3,126.2L79.5,123.8L78.9,122.9L77.2,121.9L77.1,120.3L76.4,118.7L77.4,117.0L77.7,114.3L77.7,112.4L76.8,110.4L78.0,107.1L79.4,104.4L81.5,101.5L83.9,100.1L85.3,98.8L85.4,96.5L86.8,94.1L88.8,93.2L89.9,90.8L90.6,90.7L93.2,91.5L94.4,91.8L96.8,90.8L100.3,89.5L102.6,89.5L106.1,89.3L108.5,88.9L109.7,89.3L109.1,90.6L109.4,92.6L108.5,93.2L109.7,94.3L112.0,94.7L114.7,95.5L115.3,96.5L117.9,97.8L119.6,97.8L120.2,95.9L122.0,94.7L123.7,95.2L126.1,96.3L130.8,97.3L133.1,96.5L134.6,96.8L136.9,96.8L137.4,95.9L137.8,94.5L138.7,92.6L138.7,91.2L139.0,89.9L137.8,89.8L136.0,90.4L134.3,90.3L132.5,89.8L130.8,90.2L129.0,89.3L127.8,87.3L128.2,86.0L127.5,85.3L128.4,84.6L129.6,84.0L127.8,84.2L127.2,84.5L124.9,84.2L124.3,85.0L123.5,84.6L123.4,86.0L124.1,86.6L124.9,87.9L124.0,88.2L123.7,89.8L122.8,89.7L122.0,88.6L121.6,87.5L120.8,86.0L119.6,84.6L119.6,83.1L118.5,82.0L116.1,80.7L114.3,79.4L113.8,78.3L112.8,77.9L111.2,78.3L111.2,79.6L112.7,80.7L113.4,82.0L115.5,82.8L118.5,85.0L118.2,85.6L116.7,84.6L116.2,85.7L116.8,86.6L116.1,87.4L115.2,87.9L115.5,87.0L115.2,85.3L113.8,84.4L112.0,83.6L110.2,82.1L108.8,80.7L107.3,79.6L105.6,80.3L103.8,81.2L102.0,80.8L100.5,81.1L100.5,82.7L99.1,83.6L97.4,84.6L96.4,86.0L97.0,86.9L95.9,88.2L94.4,89.5L91.5,89.7L90.4,90.4L89.4,89.8L88.3,89.0ZM130.8,83.7L133.1,83.7L136.0,82.7L137.8,82.7L139.6,83.6L141.9,84.0L145.4,83.3L145.5,82.0L143.7,80.7L141.9,79.5L140.7,79.1L140.1,78.3L141.3,76.7L142.8,75.8L140.7,76.1L138.4,76.7L137.8,77.9L139.6,78.3L138.1,78.8L136.6,79.5L136.0,78.7L134.9,78.2L136.0,77.4L134.3,76.7L132.9,76.7L131.6,78.3L130.4,80.0L129.6,81.3L129.4,82.7L129.8,83.3ZM151.9,78.7L154.8,76.7L157.1,76.3L158.9,76.7L158.9,78.3L156.8,79.4L155.7,79.6L157.1,81.1L158.7,81.7L158.3,83.3L159.5,84.2L158.9,86.2L159.8,89.0L157.7,89.7L155.7,88.9L154.2,88.3L154.2,86.6L154.8,84.6L153.6,82.7L152.4,81.3L151.6,79.6ZM321.8,51.5L323.6,47.9L327.7,46.4L331.2,45.0L335.3,44.0L340.6,44.6L345.3,45.3L351.1,45.7L354.7,46.2L360.5,46.6L366.4,45.7L368.7,45.3L372.2,46.4L378.1,46.4L382.8,47.2L385.1,48.1L389.8,48.5L392.2,47.7L395.7,47.7L401.5,48.6L405.1,47.9L406.2,46.4L407.4,43.7L409.2,45.7L412.1,46.6L415.6,47.7L418.0,49.0L419.1,47.0L422.6,46.1L423.2,48.3L422.6,49.7L419.1,50.6L416.8,51.6L415.6,53.4L412.1,54.3L409.8,56.3L408.0,58.9L408.6,60.6L410.3,62.9L413.3,62.9L416.8,64.2L419.1,65.1L422.3,65.4L422.6,68.1L423.8,69.5L425.0,70.4L426.2,70.1L426.2,66.8L427.3,64.2L428.9,62.9L427.3,60.6L427.3,58.2L427.9,55.9L432.0,55.9L435.0,57.3L436.7,57.8L437.3,60.2L439.1,61.1L441.4,60.2L442.6,58.5L443.7,59.6L446.1,62.2L447.3,64.2L450.8,66.2L453.1,68.1L453.5,69.5L452.0,70.3L449.6,71.7L446.1,71.8L441.4,71.8L439.1,73.2L436.7,75.4L440.2,73.4L443.4,73.7L442.6,75.0L443.2,77.0L444.9,77.6L447.3,77.6L448.4,76.3L448.4,77.6L444.9,79.2L442.0,80.5L441.4,79.6L442.6,78.0L440.2,78.7L437.9,80.0L436.1,81.3L435.9,82.7L436.7,82.9L435.0,83.5L432.6,84.0L432.0,84.6L431.8,86.0L430.3,87.3L429.7,89.3L430.0,91.5L428.5,92.6L426.2,94.3L423.8,96.5L423.5,98.5L424.6,101.8L425.0,104.0L423.8,105.0L422.6,103.1L421.7,101.1L421.5,99.2L419.9,98.5L418.0,98.1L415.6,98.1L413.9,98.4L414.1,99.6L412.1,99.3L409.2,98.9L407.4,99.6L405.1,101.1L404.7,103.8L404.2,106.4L404.1,108.7L404.8,111.0L406.2,113.0L408.0,114.1L410.3,113.5L412.1,113.0L412.7,110.6L415.0,109.7L416.8,109.9L416.2,112.4L415.6,113.7L415.3,115.7L414.7,117.1L418.0,117.2L420.3,117.2L421.2,118.3L420.9,120.9L420.7,123.6L421.7,125.4L423.2,126.4L425.2,125.7L427.3,125.8L428.2,126.9L428.7,127.5L430.3,124.2L431.4,123.6L433.8,122.3L435.0,121.7L435.0,123.6L436.7,122.9L436.7,122.0L438.5,123.3L439.1,124.2L441.4,124.1L443.2,124.6L446.1,124.0L447.3,125.2L447.8,126.9L449.6,127.8L451.4,129.8L454.3,130.3L457.2,131.2L458.4,132.6L459.6,135.5L460.2,137.4L459.6,138.8L461.9,139.4L463.7,139.0L466.6,141.0L469.5,141.8L471.9,141.8L474.2,143.4L477.2,144.8L477.7,147.3L477.7,150.0L475.4,152.6L473.6,155.3L473.1,157.9L473.1,161.2L471.9,164.5L470.7,167.1L469.5,168.5L466.6,168.7L464.3,169.8L461.9,172.2L461.7,175.1L460.2,177.7L457.8,181.0L456.1,183.0L454.3,184.0L452.0,183.6L450.4,183.2L451.7,185.6L451.1,188.3L448.4,189.3L445.9,189.6L445.7,191.8L442.6,192.2L443.7,194.2L442.3,195.5L442.0,197.5L439.6,198.8L441.4,200.8L439.6,203.4L437.9,205.4L438.5,207.1L438.5,208.1L442.0,210.4L439.1,211.4L435.5,210.0L433.2,208.3L431.4,206.7L430.6,203.4L430.3,200.1L432.0,197.5L433.2,194.9L432.3,192.2L432.6,189.6L432.6,186.9L433.8,184.3L435.0,181.0L435.0,177.7L436.1,173.7L436.4,168.5L436.5,164.5L436.4,162.3L434.4,160.5L430.9,158.6L429.4,156.6L428.3,153.9L426.7,151.3L425.6,148.7L423.8,146.0L423.5,144.0L425.0,142.5L424.4,141.0L423.8,139.4L425.0,137.4L426.2,136.1L427.3,134.8L428.3,132.8L427.9,130.2L427.3,128.2L427.0,127.1L425.6,126.2L424.4,127.1L424.4,128.5L423.0,127.5L421.5,127.1L420.7,126.2L419.1,124.9L418.2,123.6L416.2,120.9L413.9,120.3L411.5,119.6L409.2,117.2L407.4,116.7L405.1,117.1L402.1,116.1L399.2,114.3L396.9,113.0L395.1,111.3L395.3,109.3L393.9,107.3L392.2,105.1L390.4,103.1L389.2,101.4L387.5,99.8L386.3,97.2L384.3,96.3L384.3,98.5L386.3,101.1L388.1,103.8L389.5,106.2L389.9,107.9L387.5,105.4L385.1,102.5L384.0,100.5L382.8,97.8L381.5,95.2L379.9,93.2L377.5,92.6L376.0,89.9L375.2,88.2L373.6,86.0L373.1,84.0L373.2,81.3L373.4,77.4L372.6,74.3L374.6,74.1L375.2,75.4L374.6,73.4L372.2,71.4L369.3,69.5L367.6,67.5L365.8,65.5L364.0,63.5L361.7,61.5L358.8,60.9L355.8,59.2L352.3,58.9L348.8,58.4L345.3,58.0L343.5,58.9L341.2,59.8L340.6,58.2L342.3,57.3L339.4,59.6L337.7,61.5L334.7,63.3L331.2,64.8L327.7,65.8L325.9,65.9L328.9,64.6L331.2,63.5L333.6,61.8L334.1,60.6L331.2,60.6L328.9,60.6L328.9,58.9L325.4,57.8L324.2,56.5L325.4,54.9L330.0,54.0L330.0,53.0L326.5,53.0L323.6,52.6ZM229.8,167.1L230.4,172.4L231.6,177.7L231.6,183.4L235.1,184.3L237.4,183.0L241.5,183.0L244.5,180.7L248.0,179.8L250.9,179.7L253.8,181.4L255.6,184.0L257.9,181.7L258.3,185.0L260.3,185.6L262.1,188.5L265.0,189.3L266.7,188.7L268.5,189.6L270.3,188.0L272.6,187.3L273.5,184.3L274.4,181.7L276.1,178.4L276.7,175.1L276.1,171.8L273.8,169.1L272.0,167.1L270.8,164.5L268.3,163.0L267.7,159.9L267.0,157.6L265.3,157.0L264.7,154.3L263.8,152.4L262.9,155.0L262.6,158.6L261.8,161.2L259.7,161.2L257.9,159.2L256.2,157.9L255.8,155.9L257.1,154.2L255.0,153.9L252.1,153.0L250.3,154.2L249.2,155.9L248.6,157.9L246.8,157.9L245.6,156.6L243.9,157.2L242.1,159.6L240.4,160.5L240.0,162.1L238.6,163.8L236.3,164.5L233.3,165.4L231.0,166.9ZM266.4,192.0L268.5,192.4L270.6,192.1L270.5,193.8L269.7,195.3L267.9,195.7L267.1,194.2ZM299.2,191.7L301.0,192.9L299.6,195.1L297.6,196.6L296.9,198.6L294.9,199.6L293.1,199.1L291.9,198.4L294.1,196.2L296.6,194.6L298.2,192.9ZM250.3,139.2L252.1,138.6L253.8,139.2L254.1,141.4L255.6,142.5L257.9,140.2L260.3,141.0L262.1,141.5L265.6,143.1L267.7,145.1L269.7,146.0L270.0,148.0L272.0,151.0L273.5,152.0L271.4,151.7L269.1,151.0L267.9,149.3L266.2,148.3L264.7,149.7L263.8,150.2L262.1,150.1L260.3,148.9L258.5,149.1L259.5,147.3L258.5,145.6L255.6,143.9L252.7,143.4L252.4,142.1L253.6,141.1L251.5,141.4L250.3,139.8ZM224.5,136.1L225.1,135.5L227.2,135.2L229.2,133.9L231.6,131.5L233.6,128.9L234.7,129.9L236.3,131.2L235.1,132.4L234.9,134.1L236.0,136.5L234.5,137.4L234.5,139.2L233.3,140.7L233.1,143.1L231.2,143.5L229.8,142.5L227.7,142.5L225.9,141.8L225.7,139.8L224.8,138.5ZM208.5,130.7L211.1,131.2L212.5,133.1L214.3,134.8L215.7,135.7L217.5,137.3L218.3,139.3L219.3,140.5L221.0,142.1L220.8,145.8L219.3,145.6L216.7,143.4L215.2,141.4L214.3,139.2L212.8,137.4L212.2,135.7L210.5,133.9L208.7,131.8ZM220.1,147.1L221.6,146.0L224.0,146.7L226.6,146.7L228.9,147.3L231.0,148.4L230.8,149.5L226.9,149.1L223.4,148.4L221.4,147.9ZM260.9,83.3L261.2,81.3L262.6,80.9L262.9,78.3L264.4,79.6L267.0,80.0L267.3,80.9L265.0,81.6L264.6,82.7L262.6,82.0L261.8,82.0L261.2,83.3ZM154.6,153.9L155.7,158.6L155.0,160.5L154.0,164.5L152.4,170.4L150.7,171.4L148.9,171.4L147.8,169.1L147.5,166.9L148.7,164.5L148.3,161.2L150.1,159.2L151.9,158.3L153.3,155.9ZM90.1,72.0L92.7,71.7L95.6,71.2L98.4,70.5L97.4,70.1L98.8,68.5L97.0,68.1L96.9,67.3L95.4,66.0L94.9,64.8L94.2,64.2L93.2,64.2L94.4,62.2L92.7,61.9L92.1,62.1L93.0,60.7L90.9,60.7L90.0,62.2L90.3,63.5L89.5,63.4L90.3,64.8L91.1,65.2L90.9,65.8L92.7,65.6L93.2,66.8L93.2,67.6L91.5,67.7L91.7,68.4L92.1,69.1L90.7,69.7L92.7,70.1L93.2,70.5L91.5,70.8ZM85.0,69.7L86.8,69.9L89.4,69.2L89.7,67.5L90.3,66.2L89.5,65.2L87.4,65.2L86.8,66.2L85.0,66.6L85.3,67.7L85.9,68.5L84.7,69.5ZM446.7,50.3L444.3,52.3L442.6,54.5L439.1,54.3L442.6,56.5L436.7,56.0L434.4,55.6L432.0,53.2L427.3,53.2L432.0,51.6L432.6,48.3L427.3,45.7L422.6,45.4L419.1,45.7L415.6,44.4L414.4,41.1L419.1,40.7L423.8,40.7L428.5,42.0L430.9,42.8L435.5,44.4L439.1,46.0L440.2,47.7L444.3,49.0ZM381.6,45.0L384.0,41.7L389.8,41.7L395.7,41.5L399.8,43.1L399.2,45.7L395.7,47.0L389.8,47.4L384.0,46.6ZM372.2,43.1L374.6,40.2L380.4,40.0L382.8,41.7L378.1,43.7L374.0,44.0ZM399.2,41.1L405.1,40.7L405.1,43.1L400.4,43.3ZM406.8,40.4L412.1,40.4L410.9,42.4L407.4,42.7ZM402.1,46.6L406.2,46.0L406.8,47.3L403.9,47.4ZM423.8,40.9L427.3,40.8L429.7,41.7L426.7,42.1L424.1,41.7ZM393.9,40.9L396.3,40.8L395.9,42.0L394.5,41.7ZM427.9,48.3L430.3,48.1L430.9,49.1L428.5,49.3ZM416.8,51.9L420.3,50.6L423.8,53.0L421.5,54.7L418.0,54.0ZM449.3,75.1L451.4,71.4L453.7,70.0L453.1,72.1L456.1,73.0L456.9,75.4L456.1,76.5L453.7,76.1L452.0,75.3ZM368.4,71.0L372.2,72.1L374.0,74.1L372.2,73.7L369.3,72.1Z" fill="none" stroke="#000" stroke-width="0.95" stroke-linejoin="round"/>
<g fill="#000"><circle cx="427.9" cy="143.7" r="1.3"/><circle cx="433.3" cy="143.7" r="1.3"/><circle cx="438.7" cy="143.7" r="1.3"/><circle cx="444.1" cy="143.7" r="1.3"/><circle cx="449.6" cy="143.7" r="1.3"/><circle cx="455.0" cy="143.7" r="1.3"/><circle cx="465.8" cy="143.7" r="1.3"/><circle cx="471.2" cy="143.7" r="1.3"/><circle cx="430.6" cy="149.2" r="1.3"/><circle cx="436.0" cy="149.2" r="1.3"/><circle cx="441.4" cy="149.2" r="1.3"/><circle cx="446.8" cy="149.2" r="1.3"/><circle cx="452.3" cy="149.2" r="1.3"/><circle cx="457.7" cy="149.2" r="1.3"/><circle cx="463.1" cy="149.2" r="1.3"/><circle cx="468.5" cy="149.2" r="1.3"/><circle cx="473.9" cy="149.2" r="1.3"/><circle cx="433.3" cy="154.6" r="1.3"/><circle cx="438.7" cy="154.6" r="1.3"/><circle cx="444.1" cy="154.6" r="1.3"/><circle cx="449.6" cy="154.6" r="1.3"/><circle cx="455.0" cy="154.6" r="1.3"/><circle cx="460.4" cy="154.6" r="1.3"/><circle cx="465.8" cy="154.6" r="1.3"/><circle cx="436.0" cy="160.1" r="1.3"/><circle cx="441.4" cy="160.1" r="1.3"/><circle cx="446.8" cy="160.1" r="1.3"/><circle cx="452.3" cy="160.1" r="1.3"/><circle cx="457.7" cy="160.1" r="1.3"/><circle cx="463.1" cy="160.1" r="1.3"/><circle cx="438.7" cy="165.5" r="1.3"/><circle cx="444.1" cy="165.5" r="1.3"/><circle cx="449.6" cy="165.5" r="1.3"/><circle cx="441.4" cy="171.0" r="1.3"/><circle cx="446.8" cy="171.0" r="1.3"/><circle cx="438.7" cy="176.4" r="1.3"/><circle cx="444.1" cy="176.4" r="1.3"/><circle cx="441.4" cy="181.9" r="1.3"/><circle cx="441.4" cy="138.2" r="1.3"/><circle cx="446.8" cy="138.2" r="1.3"/><circle cx="452.3" cy="138.2" r="1.3"/><circle cx="81.0" cy="121.9" r="1.3"/><circle cx="86.4" cy="121.9" r="1.3"/><circle cx="91.8" cy="121.9" r="1.3"/><circle cx="118.9" cy="121.9" r="1.3"/><circle cx="124.4" cy="121.9" r="1.3"/><circle cx="129.8" cy="121.9" r="1.3"/><circle cx="135.2" cy="121.9" r="1.3"/><circle cx="89.1" cy="127.3" r="1.3"/><circle cx="94.5" cy="127.3" r="1.3"/><circle cx="100.0" cy="127.3" r="1.3"/><circle cx="105.4" cy="127.3" r="1.3"/><circle cx="110.8" cy="127.3" r="1.3"/><circle cx="116.2" cy="127.3" r="1.3"/><circle cx="121.6" cy="127.3" r="1.3"/><circle cx="127.1" cy="127.3" r="1.3"/><circle cx="132.5" cy="127.3" r="1.3"/><circle cx="137.9" cy="127.3" r="1.3"/><circle cx="113.5" cy="132.8" r="1.3"/><circle cx="118.9" cy="132.8" r="1.3"/><circle cx="124.4" cy="132.8" r="1.3"/><circle cx="129.8" cy="132.8" r="1.3"/><circle cx="110.8" cy="138.2" r="1.3"/><circle cx="116.2" cy="138.2" r="1.3"/><circle cx="121.6" cy="138.2" r="1.3"/><circle cx="127.1" cy="138.2" r="1.3"/><circle cx="118.9" cy="143.7" r="1.3"/><circle cx="124.4" cy="143.7" r="1.3"/><circle cx="129.8" cy="143.7" r="1.3"/><circle cx="121.6" cy="149.2" r="1.3"/></g>
<g fill="#fff"><circle cx="460.4" cy="143.7" r="1.25"/></g>
<g fill="#000"><circle cx="170.4" cy="51.0" r="1.25"/><circle cx="140.6" cy="67.3" r="1.25"/><circle cx="127.1" cy="72.8" r="1.25"/><circle cx="132.5" cy="72.8" r="1.25"/><circle cx="146.0" cy="89.1" r="1.25"/><circle cx="162.3" cy="89.1" r="1.25"/><circle cx="165.0" cy="94.6" r="1.25"/><circle cx="170.4" cy="94.6" r="1.25"/><circle cx="181.3" cy="94.6" r="1.25"/><circle cx="208.4" cy="72.8" r="1.25"/><circle cx="230.1" cy="72.8" r="1.25"/><circle cx="219.2" cy="105.5" r="1.25"/><circle cx="219.2" cy="116.4" r="1.25"/><circle cx="438.7" cy="67.3" r="1.25"/><circle cx="395.4" cy="100.1" r="1.25"/><circle cx="118.9" cy="100.1" r="1.25"/><circle cx="227.3" cy="89.1" r="1.25"/></g>
<g fill="#000"><circle cx="135.2" cy="67.3" r="0.8"/><circle cx="137.9" cy="72.8" r="0.8"/><circle cx="162.3" cy="78.2" r="0.8"/><circle cx="170.4" cy="83.7" r="0.8"/><circle cx="173.1" cy="89.1" r="0.8"/><circle cx="221.9" cy="67.3" r="0.8"/><circle cx="257.1" cy="61.9" r="0.8"/><circle cx="224.6" cy="94.6" r="0.8"/><circle cx="205.7" cy="100.1" r="0.8"/><circle cx="184.0" cy="111.0" r="0.8"/><circle cx="376.4" cy="72.8" r="0.8"/><circle cx="384.5" cy="67.3" r="0.8"/><circle cx="387.2" cy="72.8" r="0.8"/><circle cx="389.9" cy="100.1" r="0.8"/><circle cx="140.6" cy="154.6" r="0.8"/></g>
</g>
<line x1="61.6" y1="138.45" x2="624.3" y2="138.45" stroke="#000" stroke-width="0.95" stroke-dasharray="3.0 1.47"/>
<line x1="520.0" y1="19.3" x2="520.0" y2="217.3" stroke="#222" stroke-width="0.95" stroke-dasharray="3.0 1.47"/>
<path d="M559.3,28.9 L553.7,29.2 L548.2,29.7 L542.8,30.0 L537.4,30.1 L531.8,30.4 L526.7,30.8 L521.3,31.7 L509.9,31.1 L515.8,32.2 L520.1,33.3 L522.3,34.1 L516.5,37.0 L512.1,38.4 L506.7,39.9 L501.2,40.9 L496.5,42.8 L492.1,45.3 L485.8,48.2 L490.2,49.1 L495.3,49.7 L501.2,50.1 L506.7,50.6 L512.1,50.8 L517.5,51.3 L522.3,53.0 L527.4,54.1 L534.0,57.4 L539.1,58.9 L543.5,60.6 L547.9,62.5 L551.8,65.0 L555.9,66.6" fill="none" stroke="#2e9af5" stroke-width="2.2" stroke-dasharray="2.2 3.2" stroke-linejoin="round"/>
<path d="M556.5,66.6 L563.8,68.5 L565.0,72.4 L568.6,74.6 L563.1,76.8 L557.2,78.7 L556.5,81.2" fill="none" stroke="#2e9af5" stroke-width="2.5" stroke-linejoin="round" stroke-linecap="round"/>
<path d="M556.5,81.2 L551.4,83.4 L546.3,84.5 L548.5,86.3 L552.1,86.7 L546.3,88.5 L550.2,89.9 L555.0,91.1 L557.2,94.7" fill="none" stroke="#2e9af5" stroke-width="2.2" stroke-dasharray="2.2 3.2" stroke-linejoin="round"/>
<path d="M557.2,94.7 L562.3,95.5 L569.6,96.5" fill="none" stroke="#2e9af5" stroke-width="2.5" stroke-linejoin="round" stroke-linecap="round"/>
<path d="M563.1,97.2 L557.7,98.2 L552.8,100.9 L547.7,102.6 L541.5,105.3 L535.8,106.4 L533.9,108.5 L539.0,110.7 L544.1,111.1 L549.9,111.8 L555.0,112.8 L560.1,114.7" fill="none" stroke="#2e9af5" stroke-width="2.2" stroke-dasharray="2.2 3.2" stroke-linejoin="round"/>
<path d="M560.1,114.4 L563.5,115.8 L556.5,118.3 L558.7,120.2 L578.4,122.1 L594.5,123.9 L598.8,126.1 L592.3,129.7 L595.9,131.9 L591.2,134.1 L593.0,136.0 L607.6,137.7 L613.4,141.4 L616.4,145.8 L609.1,149.4 L605.4,152.6 L597.4,155.5 L588.6,157.9 L578.4,159.2 L565.3,160.4 L556.5,162.3 L559.4,164.3" fill="none" stroke="#2e9af5" stroke-width="2.5" stroke-linejoin="round" stroke-linecap="round"/>
<path d="M559.1,164.1 L552.6,165.9 L546.7,167.8 L541.3,168.9 L535.8,169.6 L534.6,173.7 L539.4,175.7 L542.3,179.8 L547.0,182.7 L552.6,186.4 L547.0,187.8 L541.6,188.9 L535.8,189.6 L530.7,190.0 L525.5,190.5 L521.9,192.2 L524.1,195.6 L529.2,194.4 L527.0,192.2 L529.9,197.3 L530.7,200.5 L530.2,203.9 L535.8,204.6 L541.3,204.9 L546.7,205.1 L551.8,205.4 L557.7,205.5" fill="none" stroke="#2e9af5" stroke-width="2.2" stroke-dasharray="2.2 3.2" stroke-linejoin="round"/>
<path d="M557.7,205.5 L563.8,207.6 L558.1,210.2" fill="none" stroke="#2e9af5" stroke-width="2.5" stroke-linejoin="round" stroke-linecap="round"/>
<rect x="61.6" y="19.3" width="562.6999999999999" height="198.0" fill="none" stroke="#000" stroke-width="1.1"/>
<line x1="483.6" y1="19.3" x2="483.6" y2="217.3" stroke="#000" stroke-width="1.1"/>
<line x1="61.6" y1="19.30" x2="65.2" y2="19.30" stroke="#000" stroke-width="1.1"/>
<line x1="624.3" y1="19.30" x2="620.6999999999999" y2="19.30" stroke="#000" stroke-width="1.1"/>
<text x="56.90" y="24.40" text-anchor="end" font-size="15.2" fill="#000">90°N</text>
<text x="628.10" y="24.40" text-anchor="start" font-size="15.2" fill="#000">90°N</text>
<line x1="61.6" y1="58.90" x2="65.2" y2="58.90" stroke="#000" stroke-width="1.1"/>
<line x1="624.3" y1="58.90" x2="620.6999999999999" y2="58.90" stroke="#000" stroke-width="1.1"/>
<text x="56.90" y="64.00" text-anchor="end" font-size="15.2" fill="#000">60°N</text>
<text x="628.10" y="64.00" text-anchor="start" font-size="15.2" fill="#000">60°N</text>
<line x1="61.6" y1="98.50" x2="65.2" y2="98.50" stroke="#000" stroke-width="1.1"/>
<line x1="624.3" y1="98.50" x2="620.6999999999999" y2="98.50" stroke="#000" stroke-width="1.1"/>
<text x="56.90" y="103.60" text-anchor="end" font-size="15.2" fill="#000">30°N</text>
<text x="628.10" y="103.60" text-anchor="start" font-size="15.2" fill="#000">30°N</text>
<line x1="61.6" y1="138.10" x2="65.2" y2="138.10" stroke="#000" stroke-width="1.1"/>
<line x1="624.3" y1="138.10" x2="620.6999999999999" y2="138.10" stroke="#000" stroke-width="1.1"/>
<text x="56.90" y="143.20" text-anchor="end" font-size="15.2" fill="#000">0°</text>
<text x="628.10" y="143.20" text-anchor="start" font-size="15.2" fill="#000">0°</text>
<line x1="61.6" y1="177.70" x2="65.2" y2="177.70" stroke="#000" stroke-width="1.1"/>
<line x1="624.3" y1="177.70" x2="620.6999999999999" y2="177.70" stroke="#000" stroke-width="1.1"/>
<text x="56.90" y="182.80" text-anchor="end" font-size="15.2" fill="#000">30°S</text>
<text x="628.10" y="182.80" text-anchor="start" font-size="15.2" fill="#000">30°S</text>
<line x1="61.6" y1="217.30" x2="65.2" y2="217.30" stroke="#000" stroke-width="1.1"/>
<line x1="624.3" y1="217.30" x2="620.6999999999999" y2="217.30" stroke="#000" stroke-width="1.1"/>
<text x="56.90" y="222.40" text-anchor="end" font-size="15.2" fill="#000">60°S</text>
<text x="628.10" y="222.40" text-anchor="start" font-size="15.2" fill="#000">60°S</text>
<line x1="96.77" y1="217.3" x2="96.77" y2="213.70000000000002" stroke="#000" stroke-width="1.1"/>
<text x="96.77" y="233.00" text-anchor="middle" font-size="15.2" fill="#000">0°</text>
<line x1="149.52" y1="217.3" x2="149.52" y2="213.70000000000002" stroke="#000" stroke-width="1.1"/>
<text x="149.52" y="233.00" text-anchor="middle" font-size="15.2" fill="#000">45°E</text>
<line x1="202.27" y1="217.3" x2="202.27" y2="213.70000000000002" stroke="#000" stroke-width="1.1"/>
<text x="202.27" y="233.00" text-anchor="middle" font-size="15.2" fill="#000">90°E</text>
<line x1="255.02" y1="217.3" x2="255.02" y2="213.70000000000002" stroke="#000" stroke-width="1.1"/>
<text x="255.02" y="233.00" text-anchor="middle" font-size="15.2" fill="#000">135°E</text>
<line x1="307.77" y1="217.3" x2="307.77" y2="213.70000000000002" stroke="#000" stroke-width="1.1"/>
<text x="307.77" y="233.00" text-anchor="middle" font-size="15.2" fill="#000">180°</text>
<line x1="360.52" y1="217.3" x2="360.52" y2="213.70000000000002" stroke="#000" stroke-width="1.1"/>
<text x="360.52" y="233.00" text-anchor="middle" font-size="15.2" fill="#000">135°W</text>
<line x1="413.27" y1="217.3" x2="413.27" y2="213.70000000000002" stroke="#000" stroke-width="1.1"/>
<text x="413.27" y="233.00" text-anchor="middle" font-size="15.2" fill="#000">90°W</text>
<line x1="466.02" y1="217.3" x2="466.02" y2="213.70000000000002" stroke="#000" stroke-width="1.1"/>
<text x="466.02" y="233.00" text-anchor="middle" font-size="15.2" fill="#000">45°W</text>
<line x1="496.00" y1="217.3" x2="496.00" y2="213.70000000000002" stroke="#000" stroke-width="1.1"/>
<text x="496.00" y="233.00" text-anchor="middle" font-size="15.2" fill="#000">-0.2</text>
<line x1="520.40" y1="217.3" x2="520.40" y2="213.70000000000002" stroke="#000" stroke-width="1.1"/>
<text x="520.40" y="233.00" text-anchor="middle" font-size="15.2" fill="#000">0.0</text>
<line x1="544.80" y1="217.3" x2="544.80" y2="213.70000000000002" stroke="#000" stroke-width="1.1"/>
<text x="544.80" y="233.00" text-anchor="middle" font-size="15.2" fill="#000">0.2</text>
<line x1="569.20" y1="217.3" x2="569.20" y2="213.70000000000002" stroke="#000" stroke-width="1.1"/>
<text x="569.20" y="233.00" text-anchor="middle" font-size="15.2" fill="#000">0.4</text>
<line x1="593.60" y1="217.3" x2="593.60" y2="213.70000000000002" stroke="#000" stroke-width="1.1"/>
<text x="593.60" y="233.00" text-anchor="middle" font-size="15.2" fill="#000">0.6</text>
<line x1="618.00" y1="217.3" x2="618.00" y2="213.70000000000002" stroke="#000" stroke-width="1.1"/>
<text x="618.00" y="233.00" text-anchor="middle" font-size="15.2" fill="#000">0.8</text>
<text x="553.70" y="251.80" text-anchor="middle" font-size="15.0" fill="#000">Correlation coefficient</text>
<text x="11.20" y="9.80" text-anchor="start" font-size="18" fill="#000" font-weight="bold">a</text>
<rect x="138.10" y="243.5" width="22.68" height="14.899999999999977" fill="#2c3cfa"/>
<rect x="160.47" y="243.5" width="22.68" height="14.899999999999977" fill="#4f6ffc"/>
<rect x="182.85" y="243.5" width="22.68" height="14.899999999999977" fill="#77a0fb"/>
<rect x="205.22" y="243.5" width="22.68" height="14.899999999999977" fill="#9ec5fc"/>
<rect x="227.60" y="243.5" width="22.68" height="14.899999999999977" fill="#c5e0fd"/>
<rect x="249.97" y="243.5" width="22.68" height="14.899999999999977" fill="#e6f4fe"/>
<rect x="272.35" y="243.5" width="22.68" height="14.899999999999977" fill="#fff5ea"/>
<rect x="294.73" y="243.5" width="22.68" height="14.899999999999977" fill="#ffe2c8"/>
<rect x="317.10" y="243.5" width="22.68" height="14.899999999999977" fill="#ffc5a0"/>
<rect x="339.48" y="243.5" width="22.68" height="14.899999999999977" fill="#ff9f78"/>
<rect x="361.85" y="243.5" width="22.68" height="14.899999999999977" fill="#ff6e4b"/>
<rect x="384.23" y="243.5" width="22.68" height="14.899999999999977" fill="#ff3d2a"/>
<path d="M138.1,243.5 L124.6,250.95 L138.1,258.4 Z" fill="#1c24fa"/>
<path d="M406.6,243.5 L420.1,250.95 L406.6,258.4 Z" fill="#ff2618"/>
<path d="M138.1,243.5 L406.6,243.5 L420.1,250.95 L406.6,258.4 L138.1,258.4 L124.6,250.95 Z" fill="none" stroke="#000" stroke-width="0.9"/>
<line x1="138.10" y1="258.4" x2="138.10" y2="259.9" stroke="#000" stroke-width="0.9"/>
<text x="138.10" y="275.00" text-anchor="middle" font-size="15.2" fill="#000">-0.6</text>
<line x1="182.85" y1="258.4" x2="182.85" y2="259.9" stroke="#000" stroke-width="0.9"/>
<text x="182.85" y="275.00" text-anchor="middle" font-size="15.2" fill="#000">-0.4</text>
<line x1="227.60" y1="258.4" x2="227.60" y2="259.9" stroke="#000" stroke-width="0.9"/>
<text x="227.60" y="275.00" text-anchor="middle" font-size="15.2" fill="#000">-0.2</text>
<line x1="272.35" y1="258.4" x2="272.35" y2="259.9" stroke="#000" stroke-width="0.9"/>
<text x="272.35" y="275.00" text-anchor="middle" font-size="15.2" fill="#000">0.0</text>
<line x1="317.10" y1="258.4" x2="317.10" y2="259.9" stroke="#000" stroke-width="0.9"/>
<text x="317.10" y="275.00" text-anchor="middle" font-size="15.2" fill="#000">0.2</text>
<line x1="361.85" y1="258.4" x2="361.85" y2="259.9" stroke="#000" stroke-width="0.9"/>
<text x="361.85" y="275.00" text-anchor="middle" font-size="15.2" fill="#000">0.4</text>
<line x1="406.60" y1="258.4" x2="406.60" y2="259.9" stroke="#000" stroke-width="0.9"/>
<text x="406.60" y="275.00" text-anchor="middle" font-size="15.2" fill="#000">0.6</text>
<text x="272.30" y="289.90" text-anchor="middle" font-size="15.0" fill="#000">Correlation coefficient</text>
<g stroke="#111" stroke-width="0.7" stroke-opacity="0.8" fill-opacity="0.82"><circle cx="189.6" cy="332.8" r="3.07" fill="#2a2af3"/><circle cx="196.9" cy="379.6" r="5.11" fill="#3c4bf5"/><circle cx="190.8" cy="387.0" r="5.11" fill="#4255f6"/><circle cx="179.6" cy="391.9" r="7.15" fill="#b9dafb"/><circle cx="154.0" cy="402.3" r="5.11" fill="#4255f6"/><circle cx="193.3" cy="406.4" r="6.74" fill="#9dc2fa"/><circle cx="130.5" cy="412.3" r="6.13" fill="#6a91f8"/><circle cx="148.3" cy="414.0" r="7.15" fill="#b9dafb"/><circle cx="179.6" cy="412.9" r="4.50" fill="#3c4bf5"/><circle cx="178.5" cy="418.1" r="6.54" fill="#81aaf9"/><circle cx="185.7" cy="420.1" r="6.54" fill="#abcefb"/><circle cx="223.1" cy="348.2" r="3.88" fill="#3035f4"/><circle cx="226.4" cy="354.1" r="3.27" fill="#2a2af3"/><circle cx="209.0" cy="367.4" r="5.72" fill="#6285f8"/><circle cx="268.3" cy="370.4" r="4.29" fill="#3035f4"/><circle cx="298.5" cy="369.4" r="4.09" fill="#3035f4"/><circle cx="217.0" cy="382.3" r="5.72" fill="#6285f8"/><circle cx="235.6" cy="378.4" r="4.70" fill="#3c4bf5"/><circle cx="252.3" cy="403.1" r="3.07" fill="#2a2af3"/><circle cx="252.3" cy="405.2" r="4.50" fill="#3c4bf5"/><circle cx="277.3" cy="402.7" r="5.52" fill="#5979f7"/><circle cx="208.4" cy="418.1" r="6.54" fill="#739df9"/><circle cx="86.6" cy="435.9" r="5.52" fill="#5979f7"/><circle cx="103.3" cy="433.9" r="7.77" fill="#e1f0fe"/><circle cx="113.8" cy="444.1" r="3.47" fill="#2a2af3"/><circle cx="111.5" cy="454.7" r="7.36" fill="#cde5fd"/><circle cx="145.4" cy="428.2" r="6.13" fill="#6a91f8"/><circle cx="157.1" cy="432.3" r="7.56" fill="#cde5fd"/><circle cx="182.2" cy="431.9" r="7.77" fill="#dbedfe"/><circle cx="155.4" cy="449.6" r="6.74" fill="#abcefb"/><circle cx="133.2" cy="467.4" r="7.77" fill="#e1f0fe"/><circle cx="152.0" cy="467.6" r="7.56" fill="#d3e8fd"/><circle cx="161.8" cy="476.2" r="6.34" fill="#739df9"/><circle cx="92.1" cy="474.6" r="7.97" fill="#e4f2ff"/><circle cx="73.7" cy="491.5" r="7.36" fill="#cde5fd"/><circle cx="132.6" cy="501.3" r="5.52" fill="#5979f7"/><circle cx="195.3" cy="492.6" r="6.54" fill="#abcefb"/><circle cx="316.7" cy="425.5" r="2.66" fill="#2a2af3"/><circle cx="251.9" cy="423.1" r="5.72" fill="#6a91f8"/><circle cx="257.0" cy="439.8" r="7.77" fill="#dbedfe"/><circle cx="211.5" cy="426.1" r="6.13" fill="#6a91f8"/><circle cx="210.4" cy="437.4" r="7.15" fill="#abcefb"/><circle cx="203.3" cy="452.3" r="7.97" fill="#d7ebfe"/><circle cx="204.3" cy="509.9" r="4.29" fill="#3035f4"/></g>
<line x1="73.7" y1="462.5" x2="316.7" y2="376.4" stroke="#0a0af8" stroke-width="2.0" stroke-dasharray="6.6 2.9"/>
<rect x="61.5" y="324.2" width="268.0" height="194.8" fill="none" stroke="#000" stroke-width="1.05"/>
<line x1="79.00" y1="519.00" x2="79.00" y2="514.80" stroke="#000" stroke-width="1.05"/>
<text x="79.00" y="534.70" text-anchor="middle" font-size="14.8" fill="#000">1.9</text>
<line x1="177.10" y1="519.00" x2="177.10" y2="514.80" stroke="#000" stroke-width="1.05"/>
<text x="177.10" y="534.70" text-anchor="middle" font-size="14.8" fill="#000">2.0</text>
<line x1="275.20" y1="519.00" x2="275.20" y2="514.80" stroke="#000" stroke-width="1.05"/>
<text x="275.20" y="534.70" text-anchor="middle" font-size="14.8" fill="#000">2.1</text>
<line x1="61.50" y1="485.30" x2="65.70" y2="485.30" stroke="#000" stroke-width="1.05"/>
<text x="56.60" y="490.60" text-anchor="end" font-size="14.8" fill="#000">4,750</text>
<line x1="61.50" y1="451.40" x2="65.70" y2="451.40" stroke="#000" stroke-width="1.05"/>
<text x="56.60" y="456.70" text-anchor="end" font-size="14.8" fill="#000">5,000</text>
<line x1="61.50" y1="417.50" x2="65.70" y2="417.50" stroke="#000" stroke-width="1.05"/>
<text x="56.60" y="422.80" text-anchor="end" font-size="14.8" fill="#000">5,250</text>
<line x1="61.50" y1="383.60" x2="65.70" y2="383.60" stroke="#000" stroke-width="1.05"/>
<text x="56.60" y="388.90" text-anchor="end" font-size="14.8" fill="#000">5,500</text>
<line x1="61.50" y1="349.70" x2="65.70" y2="349.70" stroke="#000" stroke-width="1.05"/>
<text x="56.60" y="355.00" text-anchor="end" font-size="14.8" fill="#000">5,750</text>
<text x="10.60" y="312.20" text-anchor="start" font-size="18" fill="#000" font-weight="bold">b</text>
<text transform="translate(10.70,423.60) rotate(-90)" text-anchor="middle" font-size="14.7" fill="#000">Distance north of Equator (km)</text>
<text font-size="15.0" fill="#000"><tspan x="129.85" y="560.60">SMD (10</tspan><tspan x="189.60" y="550.80" font-size="10.4">−3</tspan><tspan x="205.80" y="560.60">m</tspan><tspan x="218.50" y="550.80" font-size="10.4">3</tspan><tspan x="226.90" y="560.60" text-anchor="middle">·</tspan><tspan x="229.50" y="560.60">m</tspan><tspan x="243.10" y="550.80" font-size="10.4">−3</tspan><tspan x="256.20" y="560.60">)</tspan></text>
<line x1="216.6" y1="503.3" x2="246.5" y2="503.3" stroke="#0a0af8" stroke-width="1.8" stroke-dasharray="6.2 2.7"/>
<text x="259.00" y="508.60" text-anchor="start" font-size="15.0" fill="#0a0af8">R = 0.48*</text>
<g stroke="#111" stroke-width="0.7" stroke-opacity="0.8" fill-opacity="0.82"><circle cx="467.6" cy="382.7" r="6.13" fill="#6a91f8"/><circle cx="468.0" cy="398.0" r="6.13" fill="#6a91f8"/><circle cx="485.4" cy="401.1" r="3.47" fill="#2a2af3"/><circle cx="477.0" cy="417.0" r="6.13" fill="#739df9"/><circle cx="430.2" cy="426.1" r="5.52" fill="#5979f7"/><circle cx="474.6" cy="423.1" r="7.36" fill="#c3e0fc"/><circle cx="444.9" cy="437.8" r="7.56" fill="#cde5fd"/><circle cx="457.8" cy="446.2" r="6.74" fill="#9dc2fa"/><circle cx="477.6" cy="445.5" r="5.11" fill="#4860f6"/><circle cx="473.5" cy="438.0" r="6.13" fill="#739df9"/><circle cx="481.3" cy="450.0" r="6.74" fill="#8fb6fa"/><circle cx="472.1" cy="457.8" r="6.54" fill="#8fb6fa"/><circle cx="431.0" cy="455.4" r="4.70" fill="#3c4bf5"/><circle cx="437.8" cy="455.4" r="3.07" fill="#3035f4"/><circle cx="481.3" cy="470.1" r="4.09" fill="#3035f4"/><circle cx="451.1" cy="475.8" r="7.97" fill="#e1f0fe"/><circle cx="442.3" cy="478.9" r="7.97" fill="#e1f0fe"/><circle cx="415.7" cy="491.5" r="7.77" fill="#d3e8fd"/><circle cx="409.2" cy="484.0" r="7.77" fill="#dbedfe"/><circle cx="368.3" cy="496.2" r="7.36" fill="#cde5fd"/><circle cx="403.4" cy="499.3" r="5.31" fill="#516df7"/><circle cx="410.2" cy="509.9" r="6.95" fill="#abcefb"/><circle cx="447.4" cy="501.7" r="6.95" fill="#abcefb"/><circle cx="611.3" cy="332.8" r="3.88" fill="#3035f4"/><circle cx="541.8" cy="369.6" r="3.07" fill="#2a2af3"/><circle cx="564.3" cy="368.6" r="4.50" fill="#3640f4"/><circle cx="563.1" cy="378.2" r="3.88" fill="#3035f4"/><circle cx="533.6" cy="376.6" r="5.11" fill="#4255f6"/><circle cx="521.0" cy="380.0" r="4.70" fill="#3c4bf5"/><circle cx="508.3" cy="401.3" r="6.95" fill="#abcefb"/><circle cx="538.5" cy="399.7" r="5.11" fill="#3c4bf5"/><circle cx="543.9" cy="404.2" r="5.11" fill="#516df7"/><circle cx="514.2" cy="413.6" r="2.86" fill="#2a2af3"/><circle cx="566.3" cy="416.0" r="2.66" fill="#2a2af3"/><circle cx="497.7" cy="424.1" r="4.50" fill="#3c4bf5"/><circle cx="527.3" cy="425.5" r="6.74" fill="#9dc2fa"/><circle cx="501.8" cy="431.6" r="5.72" fill="#6285f8"/><circle cx="511.6" cy="435.3" r="4.50" fill="#3c4bf5"/><circle cx="519.7" cy="438.8" r="6.13" fill="#6a91f8"/><circle cx="506.9" cy="441.1" r="7.36" fill="#c3e0fc"/><circle cx="510.5" cy="444.1" r="7.15" fill="#b9dafb"/><circle cx="494.6" cy="451.1" r="7.77" fill="#d7ebfe"/><circle cx="537.5" cy="453.1" r="7.97" fill="#dbedfe"/></g>
<line x1="368.3" y1="507.5" x2="610.1" y2="356.1" stroke="#0a0af8" stroke-width="2.0" stroke-dasharray="6.6 2.9"/>
<rect x="355.7" y="324.2" width="267.7" height="194.8" fill="none" stroke="#000" stroke-width="1.05"/>
<line x1="372.60" y1="519.00" x2="372.60" y2="514.80" stroke="#000" stroke-width="1.05"/>
<text x="372.60" y="534.70" text-anchor="middle" font-size="14.8" fill="#000">1.9</text>
<line x1="476.50" y1="519.00" x2="476.50" y2="514.80" stroke="#000" stroke-width="1.05"/>
<text x="476.50" y="534.70" text-anchor="middle" font-size="14.8" fill="#000">2.0</text>
<line x1="580.40" y1="519.00" x2="580.40" y2="514.80" stroke="#000" stroke-width="1.05"/>
<text x="580.40" y="534.70" text-anchor="middle" font-size="14.8" fill="#000">2.1</text>
<line x1="623.40" y1="486.20" x2="619.20" y2="486.20" stroke="#000" stroke-width="1.05"/>
<text x="627.80" y="491.40" text-anchor="start" font-size="14.8" fill="#000">1,800</text>
<line x1="623.40" y1="452.30" x2="619.20" y2="452.30" stroke="#000" stroke-width="1.05"/>
<text x="627.80" y="457.50" text-anchor="start" font-size="14.8" fill="#000">2,000</text>
<line x1="623.40" y1="418.40" x2="619.20" y2="418.40" stroke="#000" stroke-width="1.05"/>
<text x="627.80" y="423.60" text-anchor="start" font-size="14.8" fill="#000">2,200</text>
<line x1="623.40" y1="384.50" x2="619.20" y2="384.50" stroke="#000" stroke-width="1.05"/>
<text x="627.80" y="389.70" text-anchor="start" font-size="14.8" fill="#000">2,400</text>
<line x1="623.40" y1="350.60" x2="619.20" y2="350.60" stroke="#000" stroke-width="1.05"/>
<text x="627.80" y="355.80" text-anchor="start" font-size="14.8" fill="#000">2,600</text>
<text x="337.80" y="312.20" text-anchor="start" font-size="18" fill="#000" font-weight="bold">c</text>
<text transform="translate(681.00,422.60) rotate(-90)" text-anchor="middle" font-size="14.7" fill="#000">Distance south of Equator (km)</text>
<text font-size="15.0" fill="#000"><tspan x="424.40" y="560.60">SMD (10</tspan><tspan x="484.15" y="550.80" font-size="10.4">−3</tspan><tspan x="500.35" y="560.60">m</tspan><tspan x="513.05" y="550.80" font-size="10.4">3</tspan><tspan x="521.45" y="560.60" text-anchor="middle">·</tspan><tspan x="524.05" y="560.60">m</tspan><tspan x="537.65" y="550.80" font-size="10.4">−3</tspan><tspan x="550.75" y="560.60">)</tspan></text>
<line x1="511.5" y1="503.8" x2="541.4" y2="503.8" stroke="#0a0af8" stroke-width="1.8" stroke-dasharray="6.2 2.7"/>
<text x="553.50" y="509.00" text-anchor="start" font-size="15.0" fill="#0a0af8">R = 0.79*</text>
<g fill="#8a8a8a" fill-opacity="0.9"><circle cx="73.7" cy="677.3" r="4.1"/><circle cx="89.6" cy="678.7" r="4.1"/><circle cx="106.4" cy="677.3" r="4.1"/><circle cx="112.5" cy="680.3" r="4.1"/><circle cx="131.9" cy="692.4" r="4.1"/><circle cx="144.4" cy="692.0" r="4.1"/><circle cx="163.8" cy="671.5" r="4.1"/><circle cx="163.4" cy="684.4" r="4.1"/><circle cx="181.0" cy="684.8" r="4.1"/><circle cx="192.8" cy="658.2" r="4.1"/><circle cx="188.3" cy="698.1" r="4.1"/><circle cx="170.4" cy="699.7" r="4.1"/><circle cx="94.1" cy="703.8" r="4.1"/><circle cx="125.8" cy="725.2" r="4.1"/><circle cx="149.5" cy="719.5" r="4.1"/><circle cx="169.3" cy="715.8" r="4.1"/><circle cx="174.4" cy="719.5" r="4.1"/><circle cx="178.5" cy="730.4" r="4.1"/><circle cx="182.6" cy="743.0" r="4.1"/><circle cx="164.6" cy="751.2" r="4.1"/><circle cx="176.1" cy="706.6" r="4.1"/><circle cx="185.7" cy="710.3" r="4.1"/><circle cx="209.8" cy="667.0" r="4.1"/><circle cx="209.8" cy="674.6" r="4.1"/><circle cx="255.8" cy="695.0" r="4.1"/><circle cx="207.4" cy="702.2" r="4.1"/><circle cx="215.5" cy="702.8" r="4.1"/><circle cx="224.1" cy="704.8" r="4.1"/><circle cx="258.5" cy="702.6" r="4.1"/><circle cx="254.4" cy="704.8" r="4.1"/><circle cx="259.5" cy="711.3" r="4.1"/><circle cx="237.0" cy="717.1" r="4.1"/><circle cx="205.3" cy="720.5" r="4.1"/><circle cx="206.8" cy="735.5" r="4.1"/><circle cx="223.9" cy="735.5" r="4.1"/><circle cx="268.7" cy="735.9" r="4.1"/><circle cx="316.7" cy="749.2" r="4.1"/><circle cx="252.7" cy="756.7" r="4.1"/><circle cx="238.6" cy="760.4" r="4.1"/><circle cx="207.8" cy="763.1" r="4.1"/></g>
<g fill="#ff9a24" fill-opacity="0.9"><circle cx="73.7" cy="610.8" r="4.1"/><circle cx="118.2" cy="634.7" r="4.1"/><circle cx="119.3" cy="650.1" r="4.1"/><circle cx="100.9" cy="661.7" r="4.1"/><circle cx="98.0" cy="673.6" r="4.1"/><circle cx="118.2" cy="670.5" r="4.1"/><circle cx="124.4" cy="666.4" r="4.1"/><circle cx="125.0" cy="669.5" r="4.1"/><circle cx="131.5" cy="667.4" r="4.1"/><circle cx="136.6" cy="669.5" r="4.1"/><circle cx="158.7" cy="691.4" r="4.1"/><circle cx="134.6" cy="693.0" r="4.1"/><circle cx="141.7" cy="696.1" r="4.1"/><circle cx="199.0" cy="686.9" r="4.1"/><circle cx="100.3" cy="715.0" r="4.1"/><circle cx="122.7" cy="717.9" r="4.1"/><circle cx="145.4" cy="722.0" r="4.1"/><circle cx="167.7" cy="725.0" r="4.1"/><circle cx="130.5" cy="741.6" r="4.1"/><circle cx="137.3" cy="783.3" r="4.1"/><circle cx="202.7" cy="704.2" r="4.1"/><circle cx="316.7" cy="721.0" r="4.1"/></g>
<line x1="73.7" y1="683.8" x2="316.7" y2="736.5" stroke="#666" stroke-width="2.0" stroke-dasharray="6.6 2.9"/>
<line x1="73.7" y1="669.5" x2="316.7" y2="742.4" stroke="#ff991f" stroke-width="2.0" stroke-dasharray="6.6 2.9"/>
<line x1="61.50" y1="601.20" x2="329.40" y2="601.20" stroke="#6e6e6e" stroke-width="1.05"/>
<line x1="61.50" y1="795.90" x2="329.40" y2="795.90" stroke="#ff991f" stroke-width="1.05"/>
<line x1="61.50" y1="600.68" x2="61.50" y2="796.42" stroke="#000" stroke-width="1.05"/>
<line x1="329.40" y1="600.68" x2="329.40" y2="796.42" stroke="#000" stroke-width="1.05"/>
<line x1="68.40" y1="601.20" x2="68.40" y2="605.40" stroke="#6e6e6e" stroke-width="1.05"/>
<text x="69.90" y="593.60" text-anchor="middle" font-size="14.8" fill="#6e6e6e">-10</text>
<line x1="131.32" y1="601.20" x2="131.32" y2="605.40" stroke="#6e6e6e" stroke-width="1.05"/>
<text x="132.82" y="593.60" text-anchor="middle" font-size="14.8" fill="#6e6e6e">-5</text>
<line x1="194.25" y1="601.20" x2="194.25" y2="605.40" stroke="#6e6e6e" stroke-width="1.05"/>
<text x="194.25" y="593.60" text-anchor="middle" font-size="14.8" fill="#6e6e6e">0</text>
<line x1="257.18" y1="601.20" x2="257.18" y2="605.40" stroke="#6e6e6e" stroke-width="1.05"/>
<text x="257.18" y="593.60" text-anchor="middle" font-size="14.8" fill="#6e6e6e">5</text>
<line x1="320.10" y1="601.20" x2="320.10" y2="605.40" stroke="#6e6e6e" stroke-width="1.05"/>
<text x="320.10" y="593.60" text-anchor="middle" font-size="14.8" fill="#6e6e6e">10</text>
<line x1="61.88" y1="795.90" x2="61.88" y2="791.70" stroke="#ff991f" stroke-width="1.05"/>
<text x="61.28" y="811.10" text-anchor="middle" font-size="14.8" fill="#ff991f">-20</text>
<line x1="118.40" y1="795.90" x2="118.40" y2="791.70" stroke="#ff991f" stroke-width="1.05"/>
<text x="118.40" y="811.10" text-anchor="middle" font-size="14.8" fill="#ff991f">0</text>
<line x1="174.92" y1="795.90" x2="174.92" y2="791.70" stroke="#ff991f" stroke-width="1.05"/>
<text x="174.92" y="811.10" text-anchor="middle" font-size="14.8" fill="#ff991f">20</text>
<line x1="231.44" y1="795.90" x2="231.44" y2="791.70" stroke="#ff991f" stroke-width="1.05"/>
<text x="231.44" y="811.10" text-anchor="middle" font-size="14.8" fill="#ff991f">40</text>
<line x1="287.96" y1="795.90" x2="287.96" y2="791.70" stroke="#ff991f" stroke-width="1.05"/>
<text x="287.96" y="811.10" text-anchor="middle" font-size="14.8" fill="#ff991f">60</text>
<line x1="61.50" y1="772.50" x2="65.70" y2="772.50" stroke="#000" stroke-width="1.05"/>
<text x="56.60" y="777.80" text-anchor="end" font-size="14.8" fill="#000">-0.4</text>
<line x1="61.50" y1="741.50" x2="65.70" y2="741.50" stroke="#000" stroke-width="1.05"/>
<text x="56.60" y="746.80" text-anchor="end" font-size="14.8" fill="#000">-0.2</text>
<line x1="61.50" y1="710.50" x2="65.70" y2="710.50" stroke="#000" stroke-width="1.05"/>
<text x="56.60" y="715.80" text-anchor="end" font-size="14.8" fill="#000">0.0</text>
<line x1="61.50" y1="679.50" x2="65.70" y2="679.50" stroke="#000" stroke-width="1.05"/>
<text x="56.60" y="684.80" text-anchor="end" font-size="14.8" fill="#000">0.2</text>
<line x1="61.50" y1="648.50" x2="65.70" y2="648.50" stroke="#000" stroke-width="1.05"/>
<text x="56.60" y="653.80" text-anchor="end" font-size="14.8" fill="#000">0.4</text>
<line x1="61.50" y1="617.50" x2="65.70" y2="617.50" stroke="#000" stroke-width="1.05"/>
<text x="56.60" y="622.80" text-anchor="end" font-size="14.8" fill="#000">0.6</text>
<text x="10.00" y="583.20" text-anchor="start" font-size="18" fill="#000" font-weight="bold">d</text>
<text transform="translate(22.70,699.55) rotate(-90)" text-anchor="middle" font-size="14.7" fill="#000">R (NHWL, SMD)</text>
<text font-size="15.0" fill="#000"><tspan x="85.30" y="838.00">SMD Trend (10</tspan><tspan x="187.90" y="828.20" font-size="10.4">−7</tspan><tspan x="204.70" y="838.00">m</tspan><tspan x="217.40" y="828.20" font-size="10.4">3</tspan><tspan x="224.70" y="838.00" text-anchor="middle">·</tspan><tspan x="227.90" y="838.00">m</tspan><tspan x="240.50" y="828.20" font-size="10.4">−3</tspan><tspan x="255.20" y="838.00" text-anchor="middle">·</tspan><tspan x="258.00" y="838.00">year</tspan><tspan x="288.50" y="828.20" font-size="10.4">−1</tspan><tspan x="300.70" y="838.00">)</tspan></text>
<circle cx="226.70" cy="610.8" r="4.0" fill="#ff991f"/>
<text x="251.90" y="615.20" text-anchor="start" font-size="13.4" fill="#ff991f">CMIP6</text>
<circle cx="226.70" cy="629.1" r="4.0" fill="#8c8c8c"/>
<text x="251.90" y="633.90" text-anchor="start" font-size="13.4" fill="#6e6e6e">CESM1 LES</text>
<line x1="213.50" y1="646.8" x2="240.10" y2="646.8" stroke="#ff991f" stroke-width="1.8" stroke-dasharray="6.2 2.7"/>
<text x="251.90" y="651.90" text-anchor="start" font-size="13.4" fill="#ff991f">R = -0.39</text>
<line x1="213.50" y1="665.4" x2="240.10" y2="665.4" stroke="#6e6e6e" stroke-width="1.8" stroke-dasharray="6.2 2.7"/>
<text x="251.90" y="670.50" text-anchor="start" font-size="13.4" fill="#6e6e6e">R = -0.43*</text>
<g fill="#8a8a8a" fill-opacity="0.9"><circle cx="388.1" cy="703.2" r="4.1"/><circle cx="451.1" cy="705.2" r="4.1"/><circle cx="455.6" cy="702.8" r="4.1"/><circle cx="477.0" cy="704.8" r="4.1"/><circle cx="488.9" cy="696.6" r="4.1"/><circle cx="489.9" cy="716.1" r="4.1"/><circle cx="520.2" cy="698.1" r="4.1"/><circle cx="535.5" cy="704.6" r="4.1"/><circle cx="513.0" cy="707.7" r="4.1"/><circle cx="511.6" cy="709.7" r="4.1"/><circle cx="513.2" cy="717.9" r="4.1"/><circle cx="515.0" cy="722.2" r="4.1"/><circle cx="534.5" cy="721.2" r="4.1"/><circle cx="551.8" cy="719.1" r="4.1"/><circle cx="566.7" cy="733.4" r="4.1"/><circle cx="496.2" cy="737.5" r="4.1"/><circle cx="533.6" cy="751.2" r="4.1"/><circle cx="562.0" cy="761.4" r="4.1"/><circle cx="611.1" cy="705.2" r="4.1"/><circle cx="500.3" cy="685.2" r="4.1"/><circle cx="537.7" cy="677.7" r="4.1"/><circle cx="558.2" cy="682.4" r="4.1"/><circle cx="528.9" cy="689.9" r="4.1"/><circle cx="369.3" cy="621.5" r="4.1"/><circle cx="367.9" cy="651.1" r="4.1"/><circle cx="372.0" cy="665.0" r="4.1"/><circle cx="399.6" cy="655.2" r="4.1"/><circle cx="425.1" cy="667.0" r="4.1"/><circle cx="429.0" cy="679.3" r="4.1"/><circle cx="434.7" cy="676.0" r="4.1"/><circle cx="450.4" cy="666.4" r="4.1"/><circle cx="463.7" cy="649.7" r="4.1"/><circle cx="463.9" cy="655.2" r="4.1"/><circle cx="464.7" cy="666.8" r="4.1"/><circle cx="458.8" cy="674.6" r="4.1"/><circle cx="466.4" cy="674.6" r="4.1"/><circle cx="467.4" cy="677.3" r="4.1"/><circle cx="465.4" cy="687.5" r="4.1"/><circle cx="484.2" cy="689.5" r="4.1"/></g>
<g fill="#ff9a24" fill-opacity="0.9"><circle cx="431.0" cy="702.6" r="4.1"/><circle cx="437.4" cy="704.2" r="4.1"/><circle cx="435.3" cy="706.2" r="4.1"/><circle cx="415.9" cy="712.4" r="4.1"/><circle cx="449.4" cy="720.5" r="4.1"/><circle cx="435.7" cy="746.5" r="4.1"/><circle cx="464.3" cy="742.0" r="4.1"/><circle cx="611.1" cy="741.4" r="4.1"/><circle cx="497.7" cy="787.0" r="4.1"/><circle cx="496.6" cy="676.0" r="4.1"/><circle cx="367.9" cy="609.8" r="4.1"/><circle cx="408.8" cy="637.8" r="4.1"/><circle cx="390.4" cy="646.6" r="4.1"/><circle cx="408.8" cy="650.5" r="4.1"/><circle cx="425.9" cy="648.6" r="4.1"/><circle cx="400.0" cy="659.9" r="4.1"/><circle cx="416.3" cy="667.4" r="4.1"/><circle cx="404.0" cy="674.0" r="4.1"/><circle cx="408.5" cy="673.6" r="4.1"/><circle cx="398.5" cy="688.5" r="4.1"/><circle cx="409.8" cy="685.8" r="4.1"/><circle cx="415.7" cy="683.4" r="4.1"/></g>
<line x1="367.9" y1="653.8" x2="611.1" y2="735.9" stroke="#666" stroke-width="2.0" stroke-dasharray="6.6 2.9"/>
<line x1="367.9" y1="655.0" x2="611.1" y2="783.9" stroke="#ff991f" stroke-width="2.0" stroke-dasharray="6.6 2.9"/>
<line x1="355.60" y1="601.20" x2="623.60" y2="601.20" stroke="#6e6e6e" stroke-width="1.05"/>
<line x1="355.60" y1="795.90" x2="623.60" y2="795.90" stroke="#ff991f" stroke-width="1.05"/>
<line x1="355.60" y1="600.68" x2="355.60" y2="796.42" stroke="#000" stroke-width="1.05"/>
<line x1="623.60" y1="600.68" x2="623.60" y2="796.42" stroke="#000" stroke-width="1.05"/>
<line x1="361.70" y1="601.20" x2="361.70" y2="605.40" stroke="#6e6e6e" stroke-width="1.05"/>
<text x="363.20" y="593.60" text-anchor="middle" font-size="14.8" fill="#6e6e6e">-10</text>
<line x1="424.55" y1="601.20" x2="424.55" y2="605.40" stroke="#6e6e6e" stroke-width="1.05"/>
<text x="426.05" y="593.60" text-anchor="middle" font-size="14.8" fill="#6e6e6e">-5</text>
<line x1="487.40" y1="601.20" x2="487.40" y2="605.40" stroke="#6e6e6e" stroke-width="1.05"/>
<text x="487.40" y="593.60" text-anchor="middle" font-size="14.8" fill="#6e6e6e">0</text>
<line x1="550.25" y1="601.20" x2="550.25" y2="605.40" stroke="#6e6e6e" stroke-width="1.05"/>
<text x="550.25" y="593.60" text-anchor="middle" font-size="14.8" fill="#6e6e6e">5</text>
<line x1="613.10" y1="601.20" x2="613.10" y2="605.40" stroke="#6e6e6e" stroke-width="1.05"/>
<text x="613.10" y="593.60" text-anchor="middle" font-size="14.8" fill="#6e6e6e">10</text>
<line x1="409.90" y1="795.90" x2="409.90" y2="791.70" stroke="#ff991f" stroke-width="1.05"/>
<text x="409.90" y="811.10" text-anchor="middle" font-size="14.8" fill="#ff991f">0</text>
<line x1="464.10" y1="795.90" x2="464.10" y2="791.70" stroke="#ff991f" stroke-width="1.05"/>
<text x="464.10" y="811.10" text-anchor="middle" font-size="14.8" fill="#ff991f">20</text>
<line x1="518.30" y1="795.90" x2="518.30" y2="791.70" stroke="#ff991f" stroke-width="1.05"/>
<text x="518.30" y="811.10" text-anchor="middle" font-size="14.8" fill="#ff991f">40</text>
<line x1="572.50" y1="795.90" x2="572.50" y2="791.70" stroke="#ff991f" stroke-width="1.05"/>
<text x="572.50" y="811.10" text-anchor="middle" font-size="14.8" fill="#ff991f">60</text>
<line x1="623.60" y1="787.70" x2="619.40" y2="787.70" stroke="#000" stroke-width="1.05"/>
<text x="628.50" y="793.00" text-anchor="start" font-size="14.8" fill="#000">-0.2</text>
<line x1="623.60" y1="751.00" x2="619.40" y2="751.00" stroke="#000" stroke-width="1.05"/>
<text x="628.50" y="756.30" text-anchor="start" font-size="14.8" fill="#000">0.0</text>
<line x1="623.60" y1="714.30" x2="619.40" y2="714.30" stroke="#000" stroke-width="1.05"/>
<text x="628.50" y="719.60" text-anchor="start" font-size="14.8" fill="#000">0.2</text>
<line x1="623.60" y1="677.60" x2="619.40" y2="677.60" stroke="#000" stroke-width="1.05"/>
<text x="628.50" y="682.90" text-anchor="start" font-size="14.8" fill="#000">0.4</text>
<line x1="623.60" y1="640.90" x2="619.40" y2="640.90" stroke="#000" stroke-width="1.05"/>
<text x="628.50" y="646.20" text-anchor="start" font-size="14.8" fill="#000">0.6</text>
<line x1="623.60" y1="604.20" x2="619.40" y2="604.20" stroke="#000" stroke-width="1.05"/>
<text x="628.50" y="609.50" text-anchor="start" font-size="14.8" fill="#000">0.8</text>
<text x="338.00" y="583.20" text-anchor="start" font-size="18" fill="#000" font-weight="bold">e</text>
<text transform="translate(669.80,699.55) rotate(-90)" text-anchor="middle" font-size="14.7" fill="#000">R (SHWL, SMD)</text>
<text font-size="15.0" fill="#000"><tspan x="380.00" y="838.00">SMD Trend (10</tspan><tspan x="482.60" y="828.20" font-size="10.4">−7</tspan><tspan x="499.40" y="838.00">m</tspan><tspan x="512.10" y="828.20" font-size="10.4">3</tspan><tspan x="519.40" y="838.00" text-anchor="middle">·</tspan><tspan x="522.60" y="838.00">m</tspan><tspan x="535.20" y="828.20" font-size="10.4">−3</tspan><tspan x="549.90" y="838.00" text-anchor="middle">·</tspan><tspan x="552.70" y="838.00">year</tspan><tspan x="583.20" y="828.20" font-size="10.4">−1</tspan><tspan x="595.40" y="838.00">)</tspan></text>
<circle cx="521.30" cy="610.8" r="4.0" fill="#ff991f"/>
<text x="546.50" y="615.20" text-anchor="start" font-size="13.4" fill="#ff991f">CMIP6</text>
<circle cx="521.30" cy="629.1" r="4.0" fill="#8c8c8c"/>
<text x="546.50" y="633.90" text-anchor="start" font-size="13.4" fill="#6e6e6e">CESM1 LES</text>
<line x1="508.10" y1="646.8" x2="534.70" y2="646.8" stroke="#ff991f" stroke-width="1.8" stroke-dasharray="6.2 2.7"/>
<text x="546.50" y="651.90" text-anchor="start" font-size="13.4" fill="#ff991f">R = -0.65*</text>
<line x1="508.10" y1="665.4" x2="534.70" y2="665.4" stroke="#6e6e6e" stroke-width="1.8" stroke-dasharray="6.2 2.7"/>
<text x="546.50" y="670.50" text-anchor="start" font-size="13.4" fill="#6e6e6e">R = -0.67*</text>
</svg>
</body></html>
